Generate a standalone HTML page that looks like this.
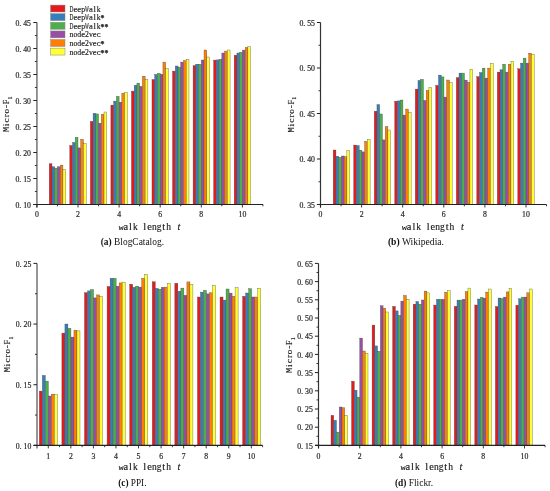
<!DOCTYPE html><html><head><meta charset="utf-8"><style>html,body{margin:0;padding:0;background:#fff;}svg{display:block;filter:blur(0.3px);}</style></head><body>
<svg width="550" height="491" viewBox="0 0 550 491">
<rect width="550" height="491" fill="#fff"/>
<rect x="49.23" y="163.80" width="2.74" height="40.70" fill="#E41A1C" stroke="#4a4a4a" stroke-width="0.35"/>
<rect x="51.97" y="166.80" width="2.74" height="37.70" fill="#377EB8" stroke="#4a4a4a" stroke-width="0.35"/>
<rect x="54.71" y="168.10" width="2.74" height="36.40" fill="#4DAF4A" stroke="#4a4a4a" stroke-width="0.35"/>
<rect x="57.45" y="166.80" width="2.74" height="37.70" fill="#984EA3" stroke="#4a4a4a" stroke-width="0.35"/>
<rect x="60.19" y="165.10" width="2.74" height="39.40" fill="#FF7F00" stroke="#4a4a4a" stroke-width="0.35"/>
<rect x="62.93" y="169.70" width="2.74" height="34.80" fill="#FFFF33" stroke="#4a4a4a" stroke-width="0.35"/>
<rect x="69.78" y="145.50" width="2.74" height="59.00" fill="#E41A1C" stroke="#4a4a4a" stroke-width="0.35"/>
<rect x="72.52" y="142.40" width="2.74" height="62.10" fill="#377EB8" stroke="#4a4a4a" stroke-width="0.35"/>
<rect x="75.26" y="137.30" width="2.74" height="67.20" fill="#4DAF4A" stroke="#4a4a4a" stroke-width="0.35"/>
<rect x="78.00" y="147.90" width="2.74" height="56.60" fill="#984EA3" stroke="#4a4a4a" stroke-width="0.35"/>
<rect x="80.74" y="139.40" width="2.74" height="65.10" fill="#FF7F00" stroke="#4a4a4a" stroke-width="0.35"/>
<rect x="83.48" y="143.60" width="2.74" height="60.90" fill="#FFFF33" stroke="#4a4a4a" stroke-width="0.35"/>
<rect x="90.33" y="121.40" width="2.74" height="83.10" fill="#E41A1C" stroke="#4a4a4a" stroke-width="0.35"/>
<rect x="93.07" y="113.30" width="2.74" height="91.20" fill="#377EB8" stroke="#4a4a4a" stroke-width="0.35"/>
<rect x="95.81" y="113.90" width="2.74" height="90.60" fill="#4DAF4A" stroke="#4a4a4a" stroke-width="0.35"/>
<rect x="98.55" y="123.20" width="2.74" height="81.30" fill="#984EA3" stroke="#4a4a4a" stroke-width="0.35"/>
<rect x="101.29" y="114.30" width="2.74" height="90.20" fill="#FF7F00" stroke="#4a4a4a" stroke-width="0.35"/>
<rect x="104.03" y="112.00" width="2.74" height="92.50" fill="#FFFF33" stroke="#4a4a4a" stroke-width="0.35"/>
<rect x="110.88" y="105.10" width="2.74" height="99.40" fill="#E41A1C" stroke="#4a4a4a" stroke-width="0.35"/>
<rect x="113.62" y="101.10" width="2.74" height="103.40" fill="#377EB8" stroke="#4a4a4a" stroke-width="0.35"/>
<rect x="116.36" y="96.40" width="2.74" height="108.10" fill="#4DAF4A" stroke="#4a4a4a" stroke-width="0.35"/>
<rect x="119.10" y="102.20" width="2.74" height="102.30" fill="#984EA3" stroke="#4a4a4a" stroke-width="0.35"/>
<rect x="121.84" y="93.20" width="2.74" height="111.30" fill="#FF7F00" stroke="#4a4a4a" stroke-width="0.35"/>
<rect x="124.58" y="92.40" width="2.74" height="112.10" fill="#FFFF33" stroke="#4a4a4a" stroke-width="0.35"/>
<rect x="131.43" y="91.10" width="2.74" height="113.40" fill="#E41A1C" stroke="#4a4a4a" stroke-width="0.35"/>
<rect x="134.17" y="85.30" width="2.74" height="119.20" fill="#377EB8" stroke="#4a4a4a" stroke-width="0.35"/>
<rect x="136.91" y="83.10" width="2.74" height="121.40" fill="#4DAF4A" stroke="#4a4a4a" stroke-width="0.35"/>
<rect x="139.65" y="86.40" width="2.74" height="118.10" fill="#984EA3" stroke="#4a4a4a" stroke-width="0.35"/>
<rect x="142.39" y="76.20" width="2.74" height="128.30" fill="#FF7F00" stroke="#4a4a4a" stroke-width="0.35"/>
<rect x="145.13" y="79.80" width="2.74" height="124.70" fill="#FFFF33" stroke="#4a4a4a" stroke-width="0.35"/>
<rect x="151.98" y="79.50" width="2.74" height="125.00" fill="#E41A1C" stroke="#4a4a4a" stroke-width="0.35"/>
<rect x="154.72" y="74.40" width="2.74" height="130.10" fill="#377EB8" stroke="#4a4a4a" stroke-width="0.35"/>
<rect x="157.46" y="73.30" width="2.74" height="131.20" fill="#4DAF4A" stroke="#4a4a4a" stroke-width="0.35"/>
<rect x="160.20" y="74.30" width="2.74" height="130.20" fill="#984EA3" stroke="#4a4a4a" stroke-width="0.35"/>
<rect x="162.94" y="62.10" width="2.74" height="142.40" fill="#FF7F00" stroke="#4a4a4a" stroke-width="0.35"/>
<rect x="165.68" y="68.70" width="2.74" height="135.80" fill="#FFFF33" stroke="#4a4a4a" stroke-width="0.35"/>
<rect x="172.53" y="71.10" width="2.74" height="133.40" fill="#E41A1C" stroke="#4a4a4a" stroke-width="0.35"/>
<rect x="175.27" y="66.00" width="2.74" height="138.50" fill="#377EB8" stroke="#4a4a4a" stroke-width="0.35"/>
<rect x="178.01" y="67.10" width="2.74" height="137.40" fill="#4DAF4A" stroke="#4a4a4a" stroke-width="0.35"/>
<rect x="180.75" y="62.10" width="2.74" height="142.40" fill="#984EA3" stroke="#4a4a4a" stroke-width="0.35"/>
<rect x="183.49" y="60.50" width="2.74" height="144.00" fill="#FF7F00" stroke="#4a4a4a" stroke-width="0.35"/>
<rect x="186.23" y="59.40" width="2.74" height="145.10" fill="#FFFF33" stroke="#4a4a4a" stroke-width="0.35"/>
<rect x="193.08" y="65.60" width="2.74" height="138.90" fill="#E41A1C" stroke="#4a4a4a" stroke-width="0.35"/>
<rect x="195.82" y="64.20" width="2.74" height="140.30" fill="#377EB8" stroke="#4a4a4a" stroke-width="0.35"/>
<rect x="198.56" y="64.20" width="2.74" height="140.30" fill="#4DAF4A" stroke="#4a4a4a" stroke-width="0.35"/>
<rect x="201.30" y="60.00" width="2.74" height="144.50" fill="#984EA3" stroke="#4a4a4a" stroke-width="0.35"/>
<rect x="204.04" y="50.00" width="2.74" height="154.50" fill="#FF7F00" stroke="#4a4a4a" stroke-width="0.35"/>
<rect x="206.78" y="57.00" width="2.74" height="147.50" fill="#FFFF33" stroke="#4a4a4a" stroke-width="0.35"/>
<rect x="213.63" y="60.10" width="2.74" height="144.40" fill="#E41A1C" stroke="#4a4a4a" stroke-width="0.35"/>
<rect x="216.37" y="59.90" width="2.74" height="144.60" fill="#377EB8" stroke="#4a4a4a" stroke-width="0.35"/>
<rect x="219.11" y="59.20" width="2.74" height="145.30" fill="#4DAF4A" stroke="#4a4a4a" stroke-width="0.35"/>
<rect x="221.85" y="53.00" width="2.74" height="151.50" fill="#984EA3" stroke="#4a4a4a" stroke-width="0.35"/>
<rect x="224.59" y="51.10" width="2.74" height="153.40" fill="#FF7F00" stroke="#4a4a4a" stroke-width="0.35"/>
<rect x="227.33" y="50.00" width="2.74" height="154.50" fill="#FFFF33" stroke="#4a4a4a" stroke-width="0.35"/>
<rect x="234.18" y="55.20" width="2.74" height="149.30" fill="#E41A1C" stroke="#4a4a4a" stroke-width="0.35"/>
<rect x="236.92" y="53.00" width="2.74" height="151.50" fill="#377EB8" stroke="#4a4a4a" stroke-width="0.35"/>
<rect x="239.66" y="52.20" width="2.74" height="152.30" fill="#4DAF4A" stroke="#4a4a4a" stroke-width="0.35"/>
<rect x="242.40" y="50.10" width="2.74" height="154.40" fill="#984EA3" stroke="#4a4a4a" stroke-width="0.35"/>
<rect x="245.14" y="47.50" width="2.74" height="157.00" fill="#FF7F00" stroke="#4a4a4a" stroke-width="0.35"/>
<rect x="247.88" y="46.80" width="2.74" height="157.70" fill="#FFFF33" stroke="#4a4a4a" stroke-width="0.35"/>
<rect x="333.21" y="150.00" width="2.73" height="54.50" fill="#E41A1C" stroke="#4a4a4a" stroke-width="0.35"/>
<rect x="335.94" y="156.20" width="2.73" height="48.30" fill="#377EB8" stroke="#4a4a4a" stroke-width="0.35"/>
<rect x="338.68" y="157.30" width="2.73" height="47.20" fill="#4DAF4A" stroke="#4a4a4a" stroke-width="0.35"/>
<rect x="341.41" y="156.00" width="2.73" height="48.50" fill="#984EA3" stroke="#4a4a4a" stroke-width="0.35"/>
<rect x="344.14" y="156.80" width="2.73" height="47.70" fill="#FF7F00" stroke="#4a4a4a" stroke-width="0.35"/>
<rect x="346.88" y="150.50" width="2.73" height="54.00" fill="#FFFF33" stroke="#4a4a4a" stroke-width="0.35"/>
<rect x="353.72" y="145.10" width="2.73" height="59.40" fill="#E41A1C" stroke="#4a4a4a" stroke-width="0.35"/>
<rect x="356.45" y="145.60" width="2.73" height="58.90" fill="#377EB8" stroke="#4a4a4a" stroke-width="0.35"/>
<rect x="359.19" y="150.20" width="2.73" height="54.30" fill="#4DAF4A" stroke="#4a4a4a" stroke-width="0.35"/>
<rect x="361.92" y="151.90" width="2.73" height="52.60" fill="#984EA3" stroke="#4a4a4a" stroke-width="0.35"/>
<rect x="364.65" y="141.30" width="2.73" height="63.20" fill="#FF7F00" stroke="#4a4a4a" stroke-width="0.35"/>
<rect x="367.39" y="139.60" width="2.73" height="64.90" fill="#FFFF33" stroke="#4a4a4a" stroke-width="0.35"/>
<rect x="374.23" y="111.20" width="2.73" height="93.30" fill="#E41A1C" stroke="#4a4a4a" stroke-width="0.35"/>
<rect x="376.96" y="104.60" width="2.73" height="99.90" fill="#377EB8" stroke="#4a4a4a" stroke-width="0.35"/>
<rect x="379.70" y="114.00" width="2.73" height="90.50" fill="#4DAF4A" stroke="#4a4a4a" stroke-width="0.35"/>
<rect x="382.43" y="139.90" width="2.73" height="64.60" fill="#984EA3" stroke="#4a4a4a" stroke-width="0.35"/>
<rect x="385.16" y="126.60" width="2.73" height="77.90" fill="#FF7F00" stroke="#4a4a4a" stroke-width="0.35"/>
<rect x="387.90" y="130.00" width="2.73" height="74.50" fill="#FFFF33" stroke="#4a4a4a" stroke-width="0.35"/>
<rect x="394.74" y="101.20" width="2.73" height="103.30" fill="#E41A1C" stroke="#4a4a4a" stroke-width="0.35"/>
<rect x="397.47" y="100.90" width="2.73" height="103.60" fill="#377EB8" stroke="#4a4a4a" stroke-width="0.35"/>
<rect x="400.21" y="100.00" width="2.73" height="104.50" fill="#4DAF4A" stroke="#4a4a4a" stroke-width="0.35"/>
<rect x="402.94" y="115.10" width="2.73" height="89.40" fill="#984EA3" stroke="#4a4a4a" stroke-width="0.35"/>
<rect x="405.67" y="109.10" width="2.73" height="95.40" fill="#FF7F00" stroke="#4a4a4a" stroke-width="0.35"/>
<rect x="408.41" y="112.40" width="2.73" height="92.10" fill="#FFFF33" stroke="#4a4a4a" stroke-width="0.35"/>
<rect x="415.25" y="89.10" width="2.73" height="115.40" fill="#E41A1C" stroke="#4a4a4a" stroke-width="0.35"/>
<rect x="417.98" y="80.40" width="2.73" height="124.10" fill="#377EB8" stroke="#4a4a4a" stroke-width="0.35"/>
<rect x="420.72" y="79.30" width="2.73" height="125.20" fill="#4DAF4A" stroke="#4a4a4a" stroke-width="0.35"/>
<rect x="423.45" y="100.40" width="2.73" height="104.10" fill="#984EA3" stroke="#4a4a4a" stroke-width="0.35"/>
<rect x="426.18" y="90.50" width="2.73" height="114.00" fill="#FF7F00" stroke="#4a4a4a" stroke-width="0.35"/>
<rect x="428.92" y="87.60" width="2.73" height="116.90" fill="#FFFF33" stroke="#4a4a4a" stroke-width="0.35"/>
<rect x="435.76" y="85.40" width="2.73" height="119.10" fill="#E41A1C" stroke="#4a4a4a" stroke-width="0.35"/>
<rect x="438.49" y="75.10" width="2.73" height="129.40" fill="#377EB8" stroke="#4a4a4a" stroke-width="0.35"/>
<rect x="441.23" y="76.90" width="2.73" height="127.60" fill="#4DAF4A" stroke="#4a4a4a" stroke-width="0.35"/>
<rect x="443.96" y="97.10" width="2.73" height="107.40" fill="#984EA3" stroke="#4a4a4a" stroke-width="0.35"/>
<rect x="446.69" y="80.00" width="2.73" height="124.50" fill="#FF7F00" stroke="#4a4a4a" stroke-width="0.35"/>
<rect x="449.43" y="82.70" width="2.73" height="121.80" fill="#FFFF33" stroke="#4a4a4a" stroke-width="0.35"/>
<rect x="456.27" y="77.70" width="2.73" height="126.80" fill="#E41A1C" stroke="#4a4a4a" stroke-width="0.35"/>
<rect x="459.00" y="73.10" width="2.73" height="131.40" fill="#377EB8" stroke="#4a4a4a" stroke-width="0.35"/>
<rect x="461.74" y="73.10" width="2.73" height="131.40" fill="#4DAF4A" stroke="#4a4a4a" stroke-width="0.35"/>
<rect x="464.47" y="80.10" width="2.73" height="124.40" fill="#984EA3" stroke="#4a4a4a" stroke-width="0.35"/>
<rect x="467.20" y="82.30" width="2.73" height="122.20" fill="#FF7F00" stroke="#4a4a4a" stroke-width="0.35"/>
<rect x="469.94" y="69.20" width="2.73" height="135.30" fill="#FFFF33" stroke="#4a4a4a" stroke-width="0.35"/>
<rect x="476.78" y="76.60" width="2.73" height="127.90" fill="#E41A1C" stroke="#4a4a4a" stroke-width="0.35"/>
<rect x="479.51" y="72.50" width="2.73" height="132.00" fill="#377EB8" stroke="#4a4a4a" stroke-width="0.35"/>
<rect x="482.25" y="68.10" width="2.73" height="136.40" fill="#4DAF4A" stroke="#4a4a4a" stroke-width="0.35"/>
<rect x="484.98" y="78.10" width="2.73" height="126.40" fill="#984EA3" stroke="#4a4a4a" stroke-width="0.35"/>
<rect x="487.71" y="68.10" width="2.73" height="136.40" fill="#FF7F00" stroke="#4a4a4a" stroke-width="0.35"/>
<rect x="490.45" y="63.30" width="2.73" height="141.20" fill="#FFFF33" stroke="#4a4a4a" stroke-width="0.35"/>
<rect x="497.29" y="72.10" width="2.73" height="132.40" fill="#E41A1C" stroke="#4a4a4a" stroke-width="0.35"/>
<rect x="500.02" y="69.80" width="2.73" height="134.70" fill="#377EB8" stroke="#4a4a4a" stroke-width="0.35"/>
<rect x="502.76" y="64.20" width="2.73" height="140.30" fill="#4DAF4A" stroke="#4a4a4a" stroke-width="0.35"/>
<rect x="505.49" y="72.10" width="2.73" height="132.40" fill="#984EA3" stroke="#4a4a4a" stroke-width="0.35"/>
<rect x="508.22" y="64.20" width="2.73" height="140.30" fill="#FF7F00" stroke="#4a4a4a" stroke-width="0.35"/>
<rect x="510.96" y="61.20" width="2.73" height="143.30" fill="#FFFF33" stroke="#4a4a4a" stroke-width="0.35"/>
<rect x="517.80" y="68.80" width="2.73" height="135.70" fill="#E41A1C" stroke="#4a4a4a" stroke-width="0.35"/>
<rect x="520.53" y="63.10" width="2.73" height="141.40" fill="#377EB8" stroke="#4a4a4a" stroke-width="0.35"/>
<rect x="523.27" y="58.10" width="2.73" height="146.40" fill="#4DAF4A" stroke="#4a4a4a" stroke-width="0.35"/>
<rect x="526.00" y="63.10" width="2.73" height="141.40" fill="#984EA3" stroke="#4a4a4a" stroke-width="0.35"/>
<rect x="528.73" y="53.20" width="2.73" height="151.30" fill="#FF7F00" stroke="#4a4a4a" stroke-width="0.35"/>
<rect x="531.47" y="54.30" width="2.73" height="150.20" fill="#FFFF33" stroke="#4a4a4a" stroke-width="0.35"/>
<rect x="39.31" y="391.10" width="3.01" height="54.30" fill="#E41A1C" stroke="#4a4a4a" stroke-width="0.35"/>
<rect x="42.33" y="375.40" width="3.01" height="70.00" fill="#377EB8" stroke="#4a4a4a" stroke-width="0.35"/>
<rect x="45.34" y="381.10" width="3.01" height="64.30" fill="#4DAF4A" stroke="#4a4a4a" stroke-width="0.35"/>
<rect x="48.35" y="396.00" width="3.01" height="49.40" fill="#984EA3" stroke="#4a4a4a" stroke-width="0.35"/>
<rect x="51.36" y="394.20" width="3.01" height="51.20" fill="#FF7F00" stroke="#4a4a4a" stroke-width="0.35"/>
<rect x="54.37" y="394.70" width="3.01" height="50.70" fill="#FFFF33" stroke="#4a4a4a" stroke-width="0.35"/>
<rect x="61.90" y="333.10" width="3.01" height="112.30" fill="#E41A1C" stroke="#4a4a4a" stroke-width="0.35"/>
<rect x="64.92" y="324.00" width="3.01" height="121.40" fill="#377EB8" stroke="#4a4a4a" stroke-width="0.35"/>
<rect x="67.93" y="328.30" width="3.01" height="117.10" fill="#4DAF4A" stroke="#4a4a4a" stroke-width="0.35"/>
<rect x="70.94" y="337.10" width="3.01" height="108.30" fill="#984EA3" stroke="#4a4a4a" stroke-width="0.35"/>
<rect x="73.95" y="330.20" width="3.01" height="115.20" fill="#FF7F00" stroke="#4a4a4a" stroke-width="0.35"/>
<rect x="76.96" y="330.90" width="3.01" height="114.50" fill="#FFFF33" stroke="#4a4a4a" stroke-width="0.35"/>
<rect x="84.49" y="292.70" width="3.01" height="152.70" fill="#E41A1C" stroke="#4a4a4a" stroke-width="0.35"/>
<rect x="87.51" y="290.90" width="3.01" height="154.50" fill="#377EB8" stroke="#4a4a4a" stroke-width="0.35"/>
<rect x="90.52" y="289.50" width="3.01" height="155.90" fill="#4DAF4A" stroke="#4a4a4a" stroke-width="0.35"/>
<rect x="93.53" y="297.90" width="3.01" height="147.50" fill="#984EA3" stroke="#4a4a4a" stroke-width="0.35"/>
<rect x="96.54" y="294.90" width="3.01" height="150.50" fill="#FF7F00" stroke="#4a4a4a" stroke-width="0.35"/>
<rect x="99.55" y="296.30" width="3.01" height="149.10" fill="#FFFF33" stroke="#4a4a4a" stroke-width="0.35"/>
<rect x="107.08" y="286.50" width="3.01" height="158.90" fill="#E41A1C" stroke="#4a4a4a" stroke-width="0.35"/>
<rect x="110.10" y="278.30" width="3.01" height="167.10" fill="#377EB8" stroke="#4a4a4a" stroke-width="0.35"/>
<rect x="113.11" y="278.30" width="3.01" height="167.10" fill="#4DAF4A" stroke="#4a4a4a" stroke-width="0.35"/>
<rect x="116.12" y="286.20" width="3.01" height="159.20" fill="#984EA3" stroke="#4a4a4a" stroke-width="0.35"/>
<rect x="119.13" y="282.90" width="3.01" height="162.50" fill="#FF7F00" stroke="#4a4a4a" stroke-width="0.35"/>
<rect x="122.14" y="282.10" width="3.01" height="163.30" fill="#FFFF33" stroke="#4a4a4a" stroke-width="0.35"/>
<rect x="129.67" y="284.20" width="3.01" height="161.20" fill="#E41A1C" stroke="#4a4a4a" stroke-width="0.35"/>
<rect x="132.69" y="287.30" width="3.01" height="158.10" fill="#377EB8" stroke="#4a4a4a" stroke-width="0.35"/>
<rect x="135.70" y="286.20" width="3.01" height="159.20" fill="#4DAF4A" stroke="#4a4a4a" stroke-width="0.35"/>
<rect x="138.71" y="287.10" width="3.01" height="158.30" fill="#984EA3" stroke="#4a4a4a" stroke-width="0.35"/>
<rect x="141.72" y="278.30" width="3.01" height="167.10" fill="#FF7F00" stroke="#4a4a4a" stroke-width="0.35"/>
<rect x="144.73" y="274.20" width="3.01" height="171.20" fill="#FFFF33" stroke="#4a4a4a" stroke-width="0.35"/>
<rect x="152.26" y="281.80" width="3.01" height="163.60" fill="#E41A1C" stroke="#4a4a4a" stroke-width="0.35"/>
<rect x="155.28" y="288.40" width="3.01" height="157.00" fill="#377EB8" stroke="#4a4a4a" stroke-width="0.35"/>
<rect x="158.29" y="289.20" width="3.01" height="156.20" fill="#4DAF4A" stroke="#4a4a4a" stroke-width="0.35"/>
<rect x="161.30" y="287.30" width="3.01" height="158.10" fill="#984EA3" stroke="#4a4a4a" stroke-width="0.35"/>
<rect x="164.31" y="287.10" width="3.01" height="158.30" fill="#FF7F00" stroke="#4a4a4a" stroke-width="0.35"/>
<rect x="167.32" y="283.20" width="3.01" height="162.20" fill="#FFFF33" stroke="#4a4a4a" stroke-width="0.35"/>
<rect x="174.85" y="283.30" width="3.01" height="162.10" fill="#E41A1C" stroke="#4a4a4a" stroke-width="0.35"/>
<rect x="177.87" y="291.20" width="3.01" height="154.20" fill="#377EB8" stroke="#4a4a4a" stroke-width="0.35"/>
<rect x="180.88" y="288.10" width="3.01" height="157.30" fill="#4DAF4A" stroke="#4a4a4a" stroke-width="0.35"/>
<rect x="183.89" y="295.30" width="3.01" height="150.10" fill="#984EA3" stroke="#4a4a4a" stroke-width="0.35"/>
<rect x="186.90" y="281.90" width="3.01" height="163.50" fill="#FF7F00" stroke="#4a4a4a" stroke-width="0.35"/>
<rect x="189.91" y="284.60" width="3.01" height="160.80" fill="#FFFF33" stroke="#4a4a4a" stroke-width="0.35"/>
<rect x="197.44" y="297.00" width="3.01" height="148.40" fill="#E41A1C" stroke="#4a4a4a" stroke-width="0.35"/>
<rect x="200.46" y="292.10" width="3.01" height="153.30" fill="#377EB8" stroke="#4a4a4a" stroke-width="0.35"/>
<rect x="203.47" y="290.30" width="3.01" height="155.10" fill="#4DAF4A" stroke="#4a4a4a" stroke-width="0.35"/>
<rect x="206.48" y="293.90" width="3.01" height="151.50" fill="#984EA3" stroke="#4a4a4a" stroke-width="0.35"/>
<rect x="209.49" y="292.80" width="3.01" height="152.60" fill="#FF7F00" stroke="#4a4a4a" stroke-width="0.35"/>
<rect x="212.50" y="285.40" width="3.01" height="160.00" fill="#FFFF33" stroke="#4a4a4a" stroke-width="0.35"/>
<rect x="220.03" y="297.00" width="3.01" height="148.40" fill="#E41A1C" stroke="#4a4a4a" stroke-width="0.35"/>
<rect x="223.05" y="300.10" width="3.01" height="145.30" fill="#377EB8" stroke="#4a4a4a" stroke-width="0.35"/>
<rect x="226.06" y="289.00" width="3.01" height="156.40" fill="#4DAF4A" stroke="#4a4a4a" stroke-width="0.35"/>
<rect x="229.07" y="293.10" width="3.01" height="152.30" fill="#984EA3" stroke="#4a4a4a" stroke-width="0.35"/>
<rect x="232.08" y="296.30" width="3.01" height="149.10" fill="#FF7F00" stroke="#4a4a4a" stroke-width="0.35"/>
<rect x="235.09" y="287.70" width="3.01" height="157.70" fill="#FFFF33" stroke="#4a4a4a" stroke-width="0.35"/>
<rect x="242.62" y="296.30" width="3.01" height="149.10" fill="#E41A1C" stroke="#4a4a4a" stroke-width="0.35"/>
<rect x="245.64" y="293.00" width="3.01" height="152.40" fill="#377EB8" stroke="#4a4a4a" stroke-width="0.35"/>
<rect x="248.65" y="288.70" width="3.01" height="156.70" fill="#4DAF4A" stroke="#4a4a4a" stroke-width="0.35"/>
<rect x="251.66" y="297.00" width="3.01" height="148.40" fill="#984EA3" stroke="#4a4a4a" stroke-width="0.35"/>
<rect x="254.67" y="297.00" width="3.01" height="148.40" fill="#FF7F00" stroke="#4a4a4a" stroke-width="0.35"/>
<rect x="257.68" y="288.20" width="3.01" height="157.20" fill="#FFFF33" stroke="#4a4a4a" stroke-width="0.35"/>
<rect x="331.02" y="415.30" width="2.74" height="30.10" fill="#E41A1C" stroke="#4a4a4a" stroke-width="0.35"/>
<rect x="333.76" y="420.30" width="2.74" height="25.10" fill="#377EB8" stroke="#4a4a4a" stroke-width="0.35"/>
<rect x="336.50" y="432.10" width="2.74" height="13.30" fill="#4DAF4A" stroke="#4a4a4a" stroke-width="0.35"/>
<rect x="339.24" y="407.00" width="2.74" height="38.40" fill="#984EA3" stroke="#4a4a4a" stroke-width="0.35"/>
<rect x="341.98" y="407.80" width="2.74" height="37.60" fill="#FF7F00" stroke="#4a4a4a" stroke-width="0.35"/>
<rect x="344.72" y="415.30" width="2.74" height="30.10" fill="#FFFF33" stroke="#4a4a4a" stroke-width="0.35"/>
<rect x="351.56" y="381.20" width="2.74" height="64.20" fill="#E41A1C" stroke="#4a4a4a" stroke-width="0.35"/>
<rect x="354.30" y="390.20" width="2.74" height="55.20" fill="#377EB8" stroke="#4a4a4a" stroke-width="0.35"/>
<rect x="357.04" y="397.10" width="2.74" height="48.30" fill="#4DAF4A" stroke="#4a4a4a" stroke-width="0.35"/>
<rect x="359.78" y="338.10" width="2.74" height="107.30" fill="#984EA3" stroke="#4a4a4a" stroke-width="0.35"/>
<rect x="362.52" y="351.00" width="2.74" height="94.40" fill="#FF7F00" stroke="#4a4a4a" stroke-width="0.35"/>
<rect x="365.26" y="353.40" width="2.74" height="92.00" fill="#FFFF33" stroke="#4a4a4a" stroke-width="0.35"/>
<rect x="372.10" y="325.10" width="2.74" height="120.30" fill="#E41A1C" stroke="#4a4a4a" stroke-width="0.35"/>
<rect x="374.84" y="345.90" width="2.74" height="99.50" fill="#377EB8" stroke="#4a4a4a" stroke-width="0.35"/>
<rect x="377.58" y="351.20" width="2.74" height="94.20" fill="#4DAF4A" stroke="#4a4a4a" stroke-width="0.35"/>
<rect x="380.32" y="305.80" width="2.74" height="139.60" fill="#984EA3" stroke="#4a4a4a" stroke-width="0.35"/>
<rect x="383.06" y="308.20" width="2.74" height="137.20" fill="#FF7F00" stroke="#4a4a4a" stroke-width="0.35"/>
<rect x="385.80" y="312.00" width="2.74" height="133.40" fill="#FFFF33" stroke="#4a4a4a" stroke-width="0.35"/>
<rect x="392.64" y="306.40" width="2.74" height="139.00" fill="#E41A1C" stroke="#4a4a4a" stroke-width="0.35"/>
<rect x="395.38" y="310.90" width="2.74" height="134.50" fill="#377EB8" stroke="#4a4a4a" stroke-width="0.35"/>
<rect x="398.12" y="315.40" width="2.74" height="130.00" fill="#4DAF4A" stroke="#4a4a4a" stroke-width="0.35"/>
<rect x="400.86" y="301.10" width="2.74" height="144.30" fill="#984EA3" stroke="#4a4a4a" stroke-width="0.35"/>
<rect x="403.60" y="295.50" width="2.74" height="149.90" fill="#FF7F00" stroke="#4a4a4a" stroke-width="0.35"/>
<rect x="406.34" y="299.30" width="2.74" height="146.10" fill="#FFFF33" stroke="#4a4a4a" stroke-width="0.35"/>
<rect x="413.18" y="304.20" width="2.74" height="141.20" fill="#E41A1C" stroke="#4a4a4a" stroke-width="0.35"/>
<rect x="415.92" y="301.50" width="2.74" height="143.90" fill="#377EB8" stroke="#4a4a4a" stroke-width="0.35"/>
<rect x="418.66" y="304.20" width="2.74" height="141.20" fill="#4DAF4A" stroke="#4a4a4a" stroke-width="0.35"/>
<rect x="421.40" y="300.00" width="2.74" height="145.40" fill="#984EA3" stroke="#4a4a4a" stroke-width="0.35"/>
<rect x="424.14" y="291.10" width="2.74" height="154.30" fill="#FF7F00" stroke="#4a4a4a" stroke-width="0.35"/>
<rect x="426.88" y="292.90" width="2.74" height="152.50" fill="#FFFF33" stroke="#4a4a4a" stroke-width="0.35"/>
<rect x="433.72" y="305.10" width="2.74" height="140.30" fill="#E41A1C" stroke="#4a4a4a" stroke-width="0.35"/>
<rect x="436.46" y="299.30" width="2.74" height="146.10" fill="#377EB8" stroke="#4a4a4a" stroke-width="0.35"/>
<rect x="439.20" y="299.30" width="2.74" height="146.10" fill="#4DAF4A" stroke="#4a4a4a" stroke-width="0.35"/>
<rect x="441.94" y="299.30" width="2.74" height="146.10" fill="#984EA3" stroke="#4a4a4a" stroke-width="0.35"/>
<rect x="444.68" y="292.20" width="2.74" height="153.20" fill="#FF7F00" stroke="#4a4a4a" stroke-width="0.35"/>
<rect x="447.42" y="290.70" width="2.74" height="154.70" fill="#FFFF33" stroke="#4a4a4a" stroke-width="0.35"/>
<rect x="454.26" y="306.30" width="2.74" height="139.10" fill="#E41A1C" stroke="#4a4a4a" stroke-width="0.35"/>
<rect x="457.00" y="300.10" width="2.74" height="145.30" fill="#377EB8" stroke="#4a4a4a" stroke-width="0.35"/>
<rect x="459.74" y="300.10" width="2.74" height="145.30" fill="#4DAF4A" stroke="#4a4a4a" stroke-width="0.35"/>
<rect x="462.48" y="299.20" width="2.74" height="146.20" fill="#984EA3" stroke="#4a4a4a" stroke-width="0.35"/>
<rect x="465.22" y="291.70" width="2.74" height="153.70" fill="#FF7F00" stroke="#4a4a4a" stroke-width="0.35"/>
<rect x="467.96" y="288.10" width="2.74" height="157.30" fill="#FFFF33" stroke="#4a4a4a" stroke-width="0.35"/>
<rect x="474.80" y="305.00" width="2.74" height="140.40" fill="#E41A1C" stroke="#4a4a4a" stroke-width="0.35"/>
<rect x="477.54" y="299.00" width="2.74" height="146.40" fill="#377EB8" stroke="#4a4a4a" stroke-width="0.35"/>
<rect x="480.28" y="297.40" width="2.74" height="148.00" fill="#4DAF4A" stroke="#4a4a4a" stroke-width="0.35"/>
<rect x="483.02" y="298.10" width="2.74" height="147.30" fill="#984EA3" stroke="#4a4a4a" stroke-width="0.35"/>
<rect x="485.76" y="292.10" width="2.74" height="153.30" fill="#FF7F00" stroke="#4a4a4a" stroke-width="0.35"/>
<rect x="488.50" y="289.00" width="2.74" height="156.40" fill="#FFFF33" stroke="#4a4a4a" stroke-width="0.35"/>
<rect x="495.34" y="306.50" width="2.74" height="138.90" fill="#E41A1C" stroke="#4a4a4a" stroke-width="0.35"/>
<rect x="498.08" y="298.00" width="2.74" height="147.40" fill="#377EB8" stroke="#4a4a4a" stroke-width="0.35"/>
<rect x="500.82" y="298.50" width="2.74" height="146.90" fill="#4DAF4A" stroke="#4a4a4a" stroke-width="0.35"/>
<rect x="503.56" y="297.10" width="2.74" height="148.30" fill="#984EA3" stroke="#4a4a4a" stroke-width="0.35"/>
<rect x="506.30" y="291.90" width="2.74" height="153.50" fill="#FF7F00" stroke="#4a4a4a" stroke-width="0.35"/>
<rect x="509.04" y="288.30" width="2.74" height="157.10" fill="#FFFF33" stroke="#4a4a4a" stroke-width="0.35"/>
<rect x="515.88" y="305.20" width="2.74" height="140.20" fill="#E41A1C" stroke="#4a4a4a" stroke-width="0.35"/>
<rect x="518.62" y="298.80" width="2.74" height="146.60" fill="#377EB8" stroke="#4a4a4a" stroke-width="0.35"/>
<rect x="521.36" y="297.10" width="2.74" height="148.30" fill="#4DAF4A" stroke="#4a4a4a" stroke-width="0.35"/>
<rect x="524.10" y="297.10" width="2.74" height="148.30" fill="#984EA3" stroke="#4a4a4a" stroke-width="0.35"/>
<rect x="526.84" y="292.80" width="2.74" height="152.60" fill="#FF7F00" stroke="#4a4a4a" stroke-width="0.35"/>
<rect x="529.58" y="289.00" width="2.74" height="156.40" fill="#FFFF33" stroke="#4a4a4a" stroke-width="0.35"/>
<line x1="36.9" y1="22.5" x2="36.9" y2="207.5" stroke="#8a8a8a" stroke-width="1.8"/>
<line x1="33.4" y1="204.5" x2="263.0" y2="204.5" stroke="#222" stroke-width="1.1"/>
<line x1="33.3" y1="204.5" x2="36.9" y2="204.5" stroke="#222" stroke-width="1"/>
<line x1="33.3" y1="178.5" x2="36.9" y2="178.5" stroke="#222" stroke-width="1"/>
<line x1="33.3" y1="152.5" x2="36.9" y2="152.5" stroke="#222" stroke-width="1"/>
<line x1="33.3" y1="126.5" x2="36.9" y2="126.5" stroke="#222" stroke-width="1"/>
<line x1="33.3" y1="100.49999999999997" x2="36.9" y2="100.49999999999997" stroke="#222" stroke-width="1"/>
<line x1="33.3" y1="74.5" x2="36.9" y2="74.5" stroke="#222" stroke-width="1"/>
<line x1="33.3" y1="48.49999999999997" x2="36.9" y2="48.49999999999997" stroke="#222" stroke-width="1"/>
<line x1="33.3" y1="22.499999999999943" x2="36.9" y2="22.499999999999943" stroke="#222" stroke-width="1"/>
<line x1="34.9" y1="191.5" x2="36.9" y2="191.5" stroke="#222" stroke-width="0.9"/>
<line x1="34.9" y1="165.5" x2="36.9" y2="165.5" stroke="#222" stroke-width="0.9"/>
<line x1="34.9" y1="139.5" x2="36.9" y2="139.5" stroke="#222" stroke-width="0.9"/>
<line x1="34.9" y1="113.49999999999999" x2="36.9" y2="113.49999999999999" stroke="#222" stroke-width="0.9"/>
<line x1="34.9" y1="87.49999999999999" x2="36.9" y2="87.49999999999999" stroke="#222" stroke-width="0.9"/>
<line x1="34.9" y1="61.49999999999997" x2="36.9" y2="61.49999999999997" stroke="#222" stroke-width="0.9"/>
<line x1="34.9" y1="35.49999999999994" x2="36.9" y2="35.49999999999994" stroke="#222" stroke-width="0.9"/>
<line x1="36.9" y1="204.5" x2="36.9" y2="207.5" stroke="#222" stroke-width="0.9"/>
<line x1="78.0" y1="204.5" x2="78.0" y2="207.5" stroke="#222" stroke-width="0.9"/>
<line x1="119.1" y1="204.5" x2="119.1" y2="207.5" stroke="#222" stroke-width="0.9"/>
<line x1="160.20000000000002" y1="204.5" x2="160.20000000000002" y2="207.5" stroke="#222" stroke-width="0.9"/>
<line x1="201.3" y1="204.5" x2="201.3" y2="207.5" stroke="#222" stroke-width="0.9"/>
<line x1="242.4" y1="204.5" x2="242.4" y2="207.5" stroke="#222" stroke-width="0.9"/>
<line x1="57.45" y1="204.5" x2="57.45" y2="206.3" stroke="#222" stroke-width="0.9"/>
<line x1="98.55000000000001" y1="204.5" x2="98.55000000000001" y2="206.3" stroke="#222" stroke-width="0.9"/>
<line x1="139.65" y1="204.5" x2="139.65" y2="206.3" stroke="#222" stroke-width="0.9"/>
<line x1="180.75" y1="204.5" x2="180.75" y2="206.3" stroke="#222" stroke-width="0.9"/>
<line x1="221.85000000000002" y1="204.5" x2="221.85000000000002" y2="206.3" stroke="#222" stroke-width="0.9"/>
<line x1="262.95" y1="204.5" x2="262.95" y2="206.3" stroke="#222" stroke-width="0.9"/>
<text transform="translate(17.35,207.70) scale(0.987,1)" text-anchor="middle" font-family="'Liberation Serif', serif" font-size="7.9" stroke="#2a2a2a" stroke-width="0.2" fill="#2a2a2a">0</text>
<text transform="translate(20.39,207.70) scale(1.100,1)" text-anchor="middle" font-family="'Liberation Serif', serif" font-size="7.9" stroke="#2a2a2a" stroke-width="0.2" fill="#2a2a2a">.</text>
<text transform="translate(25.15,207.70) scale(0.987,1)" text-anchor="middle" font-family="'Liberation Serif', serif" font-size="7.9" stroke="#2a2a2a" stroke-width="0.2" fill="#2a2a2a">1</text>
<text transform="translate(29.05,207.70) scale(0.987,1)" text-anchor="middle" font-family="'Liberation Serif', serif" font-size="7.9" stroke="#2a2a2a" stroke-width="0.2" fill="#2a2a2a">0</text>
<text transform="translate(17.35,181.70) scale(0.987,1)" text-anchor="middle" font-family="'Liberation Serif', serif" font-size="7.9" stroke="#2a2a2a" stroke-width="0.2" fill="#2a2a2a">0</text>
<text transform="translate(20.39,181.70) scale(1.100,1)" text-anchor="middle" font-family="'Liberation Serif', serif" font-size="7.9" stroke="#2a2a2a" stroke-width="0.2" fill="#2a2a2a">.</text>
<text transform="translate(25.15,181.70) scale(0.987,1)" text-anchor="middle" font-family="'Liberation Serif', serif" font-size="7.9" stroke="#2a2a2a" stroke-width="0.2" fill="#2a2a2a">1</text>
<text transform="translate(29.05,181.70) scale(0.987,1)" text-anchor="middle" font-family="'Liberation Serif', serif" font-size="7.9" stroke="#2a2a2a" stroke-width="0.2" fill="#2a2a2a">5</text>
<text transform="translate(17.35,155.70) scale(0.987,1)" text-anchor="middle" font-family="'Liberation Serif', serif" font-size="7.9" stroke="#2a2a2a" stroke-width="0.2" fill="#2a2a2a">0</text>
<text transform="translate(20.39,155.70) scale(1.100,1)" text-anchor="middle" font-family="'Liberation Serif', serif" font-size="7.9" stroke="#2a2a2a" stroke-width="0.2" fill="#2a2a2a">.</text>
<text transform="translate(25.15,155.70) scale(0.987,1)" text-anchor="middle" font-family="'Liberation Serif', serif" font-size="7.9" stroke="#2a2a2a" stroke-width="0.2" fill="#2a2a2a">2</text>
<text transform="translate(29.05,155.70) scale(0.987,1)" text-anchor="middle" font-family="'Liberation Serif', serif" font-size="7.9" stroke="#2a2a2a" stroke-width="0.2" fill="#2a2a2a">0</text>
<text transform="translate(17.35,129.70) scale(0.987,1)" text-anchor="middle" font-family="'Liberation Serif', serif" font-size="7.9" stroke="#2a2a2a" stroke-width="0.2" fill="#2a2a2a">0</text>
<text transform="translate(20.39,129.70) scale(1.100,1)" text-anchor="middle" font-family="'Liberation Serif', serif" font-size="7.9" stroke="#2a2a2a" stroke-width="0.2" fill="#2a2a2a">.</text>
<text transform="translate(25.15,129.70) scale(0.987,1)" text-anchor="middle" font-family="'Liberation Serif', serif" font-size="7.9" stroke="#2a2a2a" stroke-width="0.2" fill="#2a2a2a">2</text>
<text transform="translate(29.05,129.70) scale(0.987,1)" text-anchor="middle" font-family="'Liberation Serif', serif" font-size="7.9" stroke="#2a2a2a" stroke-width="0.2" fill="#2a2a2a">5</text>
<text transform="translate(17.35,103.70) scale(0.987,1)" text-anchor="middle" font-family="'Liberation Serif', serif" font-size="7.9" stroke="#2a2a2a" stroke-width="0.2" fill="#2a2a2a">0</text>
<text transform="translate(20.39,103.70) scale(1.100,1)" text-anchor="middle" font-family="'Liberation Serif', serif" font-size="7.9" stroke="#2a2a2a" stroke-width="0.2" fill="#2a2a2a">.</text>
<text transform="translate(25.15,103.70) scale(0.987,1)" text-anchor="middle" font-family="'Liberation Serif', serif" font-size="7.9" stroke="#2a2a2a" stroke-width="0.2" fill="#2a2a2a">3</text>
<text transform="translate(29.05,103.70) scale(0.987,1)" text-anchor="middle" font-family="'Liberation Serif', serif" font-size="7.9" stroke="#2a2a2a" stroke-width="0.2" fill="#2a2a2a">0</text>
<text transform="translate(17.35,77.70) scale(0.987,1)" text-anchor="middle" font-family="'Liberation Serif', serif" font-size="7.9" stroke="#2a2a2a" stroke-width="0.2" fill="#2a2a2a">0</text>
<text transform="translate(20.39,77.70) scale(1.100,1)" text-anchor="middle" font-family="'Liberation Serif', serif" font-size="7.9" stroke="#2a2a2a" stroke-width="0.2" fill="#2a2a2a">.</text>
<text transform="translate(25.15,77.70) scale(0.987,1)" text-anchor="middle" font-family="'Liberation Serif', serif" font-size="7.9" stroke="#2a2a2a" stroke-width="0.2" fill="#2a2a2a">3</text>
<text transform="translate(29.05,77.70) scale(0.987,1)" text-anchor="middle" font-family="'Liberation Serif', serif" font-size="7.9" stroke="#2a2a2a" stroke-width="0.2" fill="#2a2a2a">5</text>
<text transform="translate(17.35,51.70) scale(0.987,1)" text-anchor="middle" font-family="'Liberation Serif', serif" font-size="7.9" stroke="#2a2a2a" stroke-width="0.2" fill="#2a2a2a">0</text>
<text transform="translate(20.39,51.70) scale(1.100,1)" text-anchor="middle" font-family="'Liberation Serif', serif" font-size="7.9" stroke="#2a2a2a" stroke-width="0.2" fill="#2a2a2a">.</text>
<text transform="translate(25.15,51.70) scale(0.987,1)" text-anchor="middle" font-family="'Liberation Serif', serif" font-size="7.9" stroke="#2a2a2a" stroke-width="0.2" fill="#2a2a2a">4</text>
<text transform="translate(29.05,51.70) scale(0.987,1)" text-anchor="middle" font-family="'Liberation Serif', serif" font-size="7.9" stroke="#2a2a2a" stroke-width="0.2" fill="#2a2a2a">0</text>
<text transform="translate(17.35,25.70) scale(0.987,1)" text-anchor="middle" font-family="'Liberation Serif', serif" font-size="7.9" stroke="#2a2a2a" stroke-width="0.2" fill="#2a2a2a">0</text>
<text transform="translate(20.39,25.70) scale(1.100,1)" text-anchor="middle" font-family="'Liberation Serif', serif" font-size="7.9" stroke="#2a2a2a" stroke-width="0.2" fill="#2a2a2a">.</text>
<text transform="translate(25.15,25.70) scale(0.987,1)" text-anchor="middle" font-family="'Liberation Serif', serif" font-size="7.9" stroke="#2a2a2a" stroke-width="0.2" fill="#2a2a2a">4</text>
<text transform="translate(29.05,25.70) scale(0.987,1)" text-anchor="middle" font-family="'Liberation Serif', serif" font-size="7.9" stroke="#2a2a2a" stroke-width="0.2" fill="#2a2a2a">5</text>
<text transform="translate(36.90,217.30) scale(0.987,1)" text-anchor="middle" font-family="'Liberation Serif', serif" font-size="7.9" stroke="#2a2a2a" stroke-width="0.2" fill="#2a2a2a">0</text>
<text transform="translate(78.00,217.30) scale(0.987,1)" text-anchor="middle" font-family="'Liberation Serif', serif" font-size="7.9" stroke="#2a2a2a" stroke-width="0.2" fill="#2a2a2a">2</text>
<text transform="translate(119.10,217.30) scale(0.987,1)" text-anchor="middle" font-family="'Liberation Serif', serif" font-size="7.9" stroke="#2a2a2a" stroke-width="0.2" fill="#2a2a2a">4</text>
<text transform="translate(160.20,217.30) scale(0.987,1)" text-anchor="middle" font-family="'Liberation Serif', serif" font-size="7.9" stroke="#2a2a2a" stroke-width="0.2" fill="#2a2a2a">6</text>
<text transform="translate(201.30,217.30) scale(0.987,1)" text-anchor="middle" font-family="'Liberation Serif', serif" font-size="7.9" stroke="#2a2a2a" stroke-width="0.2" fill="#2a2a2a">8</text>
<text transform="translate(240.45,217.30) scale(0.987,1)" text-anchor="middle" font-family="'Liberation Serif', serif" font-size="7.9" stroke="#2a2a2a" stroke-width="0.2" fill="#2a2a2a">1</text>
<text transform="translate(244.35,217.30) scale(0.987,1)" text-anchor="middle" font-family="'Liberation Serif', serif" font-size="7.9" stroke="#2a2a2a" stroke-width="0.2" fill="#2a2a2a">0</text>
<line x1="320.5" y1="22.5" x2="320.5" y2="207.5" stroke="#333" stroke-width="1.2"/>
<line x1="317.0" y1="204.5" x2="546.5" y2="204.5" stroke="#222" stroke-width="1.1"/>
<line x1="316.9" y1="204.5" x2="320.5" y2="204.5" stroke="#222" stroke-width="1"/>
<line x1="316.9" y1="159.00000000000003" x2="320.5" y2="159.00000000000003" stroke="#222" stroke-width="1"/>
<line x1="316.9" y1="113.50000000000006" x2="320.5" y2="113.50000000000006" stroke="#222" stroke-width="1"/>
<line x1="316.9" y1="68.00000000000003" x2="320.5" y2="68.00000000000003" stroke="#222" stroke-width="1"/>
<line x1="316.9" y1="22.5" x2="320.5" y2="22.5" stroke="#222" stroke-width="1"/>
<line x1="318.5" y1="181.75" x2="320.5" y2="181.75" stroke="#222" stroke-width="0.9"/>
<line x1="318.5" y1="136.25" x2="320.5" y2="136.25" stroke="#222" stroke-width="0.9"/>
<line x1="318.5" y1="90.75000000000004" x2="320.5" y2="90.75000000000004" stroke="#222" stroke-width="0.9"/>
<line x1="318.5" y1="45.25" x2="320.5" y2="45.25" stroke="#222" stroke-width="0.9"/>
<line x1="320.5" y1="204.5" x2="320.5" y2="207.5" stroke="#222" stroke-width="0.9"/>
<line x1="361.6" y1="204.5" x2="361.6" y2="207.5" stroke="#222" stroke-width="0.9"/>
<line x1="402.7" y1="204.5" x2="402.7" y2="207.5" stroke="#222" stroke-width="0.9"/>
<line x1="443.8" y1="204.5" x2="443.8" y2="207.5" stroke="#222" stroke-width="0.9"/>
<line x1="484.9" y1="204.5" x2="484.9" y2="207.5" stroke="#222" stroke-width="0.9"/>
<line x1="526.0" y1="204.5" x2="526.0" y2="207.5" stroke="#222" stroke-width="0.9"/>
<line x1="341.05" y1="204.5" x2="341.05" y2="206.3" stroke="#222" stroke-width="0.9"/>
<line x1="382.15" y1="204.5" x2="382.15" y2="206.3" stroke="#222" stroke-width="0.9"/>
<line x1="423.25" y1="204.5" x2="423.25" y2="206.3" stroke="#222" stroke-width="0.9"/>
<line x1="464.35" y1="204.5" x2="464.35" y2="206.3" stroke="#222" stroke-width="0.9"/>
<line x1="505.45000000000005" y1="204.5" x2="505.45000000000005" y2="206.3" stroke="#222" stroke-width="0.9"/>
<line x1="546.55" y1="204.5" x2="546.55" y2="206.3" stroke="#222" stroke-width="0.9"/>
<text transform="translate(301.35,207.70) scale(0.987,1)" text-anchor="middle" font-family="'Liberation Serif', serif" font-size="7.9" stroke="#2a2a2a" stroke-width="0.2" fill="#2a2a2a">0</text>
<text transform="translate(304.39,207.70) scale(1.100,1)" text-anchor="middle" font-family="'Liberation Serif', serif" font-size="7.9" stroke="#2a2a2a" stroke-width="0.2" fill="#2a2a2a">.</text>
<text transform="translate(309.15,207.70) scale(0.987,1)" text-anchor="middle" font-family="'Liberation Serif', serif" font-size="7.9" stroke="#2a2a2a" stroke-width="0.2" fill="#2a2a2a">3</text>
<text transform="translate(313.05,207.70) scale(0.987,1)" text-anchor="middle" font-family="'Liberation Serif', serif" font-size="7.9" stroke="#2a2a2a" stroke-width="0.2" fill="#2a2a2a">5</text>
<text transform="translate(301.35,162.20) scale(0.987,1)" text-anchor="middle" font-family="'Liberation Serif', serif" font-size="7.9" stroke="#2a2a2a" stroke-width="0.2" fill="#2a2a2a">0</text>
<text transform="translate(304.39,162.20) scale(1.100,1)" text-anchor="middle" font-family="'Liberation Serif', serif" font-size="7.9" stroke="#2a2a2a" stroke-width="0.2" fill="#2a2a2a">.</text>
<text transform="translate(309.15,162.20) scale(0.987,1)" text-anchor="middle" font-family="'Liberation Serif', serif" font-size="7.9" stroke="#2a2a2a" stroke-width="0.2" fill="#2a2a2a">4</text>
<text transform="translate(313.05,162.20) scale(0.987,1)" text-anchor="middle" font-family="'Liberation Serif', serif" font-size="7.9" stroke="#2a2a2a" stroke-width="0.2" fill="#2a2a2a">0</text>
<text transform="translate(301.35,116.70) scale(0.987,1)" text-anchor="middle" font-family="'Liberation Serif', serif" font-size="7.9" stroke="#2a2a2a" stroke-width="0.2" fill="#2a2a2a">0</text>
<text transform="translate(304.39,116.70) scale(1.100,1)" text-anchor="middle" font-family="'Liberation Serif', serif" font-size="7.9" stroke="#2a2a2a" stroke-width="0.2" fill="#2a2a2a">.</text>
<text transform="translate(309.15,116.70) scale(0.987,1)" text-anchor="middle" font-family="'Liberation Serif', serif" font-size="7.9" stroke="#2a2a2a" stroke-width="0.2" fill="#2a2a2a">4</text>
<text transform="translate(313.05,116.70) scale(0.987,1)" text-anchor="middle" font-family="'Liberation Serif', serif" font-size="7.9" stroke="#2a2a2a" stroke-width="0.2" fill="#2a2a2a">5</text>
<text transform="translate(301.35,71.20) scale(0.987,1)" text-anchor="middle" font-family="'Liberation Serif', serif" font-size="7.9" stroke="#2a2a2a" stroke-width="0.2" fill="#2a2a2a">0</text>
<text transform="translate(304.39,71.20) scale(1.100,1)" text-anchor="middle" font-family="'Liberation Serif', serif" font-size="7.9" stroke="#2a2a2a" stroke-width="0.2" fill="#2a2a2a">.</text>
<text transform="translate(309.15,71.20) scale(0.987,1)" text-anchor="middle" font-family="'Liberation Serif', serif" font-size="7.9" stroke="#2a2a2a" stroke-width="0.2" fill="#2a2a2a">5</text>
<text transform="translate(313.05,71.20) scale(0.987,1)" text-anchor="middle" font-family="'Liberation Serif', serif" font-size="7.9" stroke="#2a2a2a" stroke-width="0.2" fill="#2a2a2a">0</text>
<text transform="translate(301.35,25.70) scale(0.987,1)" text-anchor="middle" font-family="'Liberation Serif', serif" font-size="7.9" stroke="#2a2a2a" stroke-width="0.2" fill="#2a2a2a">0</text>
<text transform="translate(304.39,25.70) scale(1.100,1)" text-anchor="middle" font-family="'Liberation Serif', serif" font-size="7.9" stroke="#2a2a2a" stroke-width="0.2" fill="#2a2a2a">.</text>
<text transform="translate(309.15,25.70) scale(0.987,1)" text-anchor="middle" font-family="'Liberation Serif', serif" font-size="7.9" stroke="#2a2a2a" stroke-width="0.2" fill="#2a2a2a">5</text>
<text transform="translate(313.05,25.70) scale(0.987,1)" text-anchor="middle" font-family="'Liberation Serif', serif" font-size="7.9" stroke="#2a2a2a" stroke-width="0.2" fill="#2a2a2a">5</text>
<text transform="translate(320.50,217.30) scale(0.987,1)" text-anchor="middle" font-family="'Liberation Serif', serif" font-size="7.9" stroke="#2a2a2a" stroke-width="0.2" fill="#2a2a2a">0</text>
<text transform="translate(361.60,217.30) scale(0.987,1)" text-anchor="middle" font-family="'Liberation Serif', serif" font-size="7.9" stroke="#2a2a2a" stroke-width="0.2" fill="#2a2a2a">2</text>
<text transform="translate(402.70,217.30) scale(0.987,1)" text-anchor="middle" font-family="'Liberation Serif', serif" font-size="7.9" stroke="#2a2a2a" stroke-width="0.2" fill="#2a2a2a">4</text>
<text transform="translate(443.80,217.30) scale(0.987,1)" text-anchor="middle" font-family="'Liberation Serif', serif" font-size="7.9" stroke="#2a2a2a" stroke-width="0.2" fill="#2a2a2a">6</text>
<text transform="translate(484.90,217.30) scale(0.987,1)" text-anchor="middle" font-family="'Liberation Serif', serif" font-size="7.9" stroke="#2a2a2a" stroke-width="0.2" fill="#2a2a2a">8</text>
<text transform="translate(524.05,217.30) scale(0.987,1)" text-anchor="middle" font-family="'Liberation Serif', serif" font-size="7.9" stroke="#2a2a2a" stroke-width="0.2" fill="#2a2a2a">1</text>
<text transform="translate(527.95,217.30) scale(0.987,1)" text-anchor="middle" font-family="'Liberation Serif', serif" font-size="7.9" stroke="#2a2a2a" stroke-width="0.2" fill="#2a2a2a">0</text>
<line x1="37.0" y1="263.4" x2="37.0" y2="448.4" stroke="#8a8a8a" stroke-width="1.8"/>
<line x1="33.5" y1="445.4" x2="262.6" y2="445.4" stroke="#222" stroke-width="1.1"/>
<line x1="33.4" y1="445.4" x2="37.0" y2="445.4" stroke="#222" stroke-width="1"/>
<line x1="33.4" y1="384.7333333333333" x2="37.0" y2="384.7333333333333" stroke="#222" stroke-width="1"/>
<line x1="33.4" y1="324.06666666666666" x2="37.0" y2="324.06666666666666" stroke="#222" stroke-width="1"/>
<line x1="33.4" y1="263.4" x2="37.0" y2="263.4" stroke="#222" stroke-width="1"/>
<line x1="35.0" y1="415.06666666666666" x2="37.0" y2="415.06666666666666" stroke="#222" stroke-width="0.9"/>
<line x1="35.0" y1="354.4" x2="37.0" y2="354.4" stroke="#222" stroke-width="0.9"/>
<line x1="35.0" y1="293.7333333333333" x2="37.0" y2="293.7333333333333" stroke="#222" stroke-width="0.9"/>
<line x1="48.28" y1="445.4" x2="48.28" y2="448.4" stroke="#222" stroke-width="0.9"/>
<line x1="70.84" y1="445.4" x2="70.84" y2="448.4" stroke="#222" stroke-width="0.9"/>
<line x1="93.4" y1="445.4" x2="93.4" y2="448.4" stroke="#222" stroke-width="0.9"/>
<line x1="115.96" y1="445.4" x2="115.96" y2="448.4" stroke="#222" stroke-width="0.9"/>
<line x1="138.51999999999998" y1="445.4" x2="138.51999999999998" y2="448.4" stroke="#222" stroke-width="0.9"/>
<line x1="161.07999999999998" y1="445.4" x2="161.07999999999998" y2="448.4" stroke="#222" stroke-width="0.9"/>
<line x1="183.64" y1="445.4" x2="183.64" y2="448.4" stroke="#222" stroke-width="0.9"/>
<line x1="206.2" y1="445.4" x2="206.2" y2="448.4" stroke="#222" stroke-width="0.9"/>
<line x1="228.76" y1="445.4" x2="228.76" y2="448.4" stroke="#222" stroke-width="0.9"/>
<line x1="251.32" y1="445.4" x2="251.32" y2="448.4" stroke="#222" stroke-width="0.9"/>
<line x1="59.56" y1="445.4" x2="59.56" y2="447.2" stroke="#222" stroke-width="0.9"/>
<line x1="82.12" y1="445.4" x2="82.12" y2="447.2" stroke="#222" stroke-width="0.9"/>
<line x1="104.67999999999999" y1="445.4" x2="104.67999999999999" y2="447.2" stroke="#222" stroke-width="0.9"/>
<line x1="127.24" y1="445.4" x2="127.24" y2="447.2" stroke="#222" stroke-width="0.9"/>
<line x1="149.8" y1="445.4" x2="149.8" y2="447.2" stroke="#222" stroke-width="0.9"/>
<line x1="172.35999999999999" y1="445.4" x2="172.35999999999999" y2="447.2" stroke="#222" stroke-width="0.9"/>
<line x1="194.92" y1="445.4" x2="194.92" y2="447.2" stroke="#222" stroke-width="0.9"/>
<line x1="217.48" y1="445.4" x2="217.48" y2="447.2" stroke="#222" stroke-width="0.9"/>
<line x1="240.04" y1="445.4" x2="240.04" y2="447.2" stroke="#222" stroke-width="0.9"/>
<line x1="262.6" y1="445.4" x2="262.6" y2="447.2" stroke="#222" stroke-width="0.9"/>
<text transform="translate(17.65,448.60) scale(0.987,1)" text-anchor="middle" font-family="'Liberation Serif', serif" font-size="7.9" stroke="#2a2a2a" stroke-width="0.2" fill="#2a2a2a">0</text>
<text transform="translate(20.69,448.60) scale(1.100,1)" text-anchor="middle" font-family="'Liberation Serif', serif" font-size="7.9" stroke="#2a2a2a" stroke-width="0.2" fill="#2a2a2a">.</text>
<text transform="translate(25.45,448.60) scale(0.987,1)" text-anchor="middle" font-family="'Liberation Serif', serif" font-size="7.9" stroke="#2a2a2a" stroke-width="0.2" fill="#2a2a2a">1</text>
<text transform="translate(29.35,448.60) scale(0.987,1)" text-anchor="middle" font-family="'Liberation Serif', serif" font-size="7.9" stroke="#2a2a2a" stroke-width="0.2" fill="#2a2a2a">0</text>
<text transform="translate(17.65,387.93) scale(0.987,1)" text-anchor="middle" font-family="'Liberation Serif', serif" font-size="7.9" stroke="#2a2a2a" stroke-width="0.2" fill="#2a2a2a">0</text>
<text transform="translate(20.69,387.93) scale(1.100,1)" text-anchor="middle" font-family="'Liberation Serif', serif" font-size="7.9" stroke="#2a2a2a" stroke-width="0.2" fill="#2a2a2a">.</text>
<text transform="translate(25.45,387.93) scale(0.987,1)" text-anchor="middle" font-family="'Liberation Serif', serif" font-size="7.9" stroke="#2a2a2a" stroke-width="0.2" fill="#2a2a2a">1</text>
<text transform="translate(29.35,387.93) scale(0.987,1)" text-anchor="middle" font-family="'Liberation Serif', serif" font-size="7.9" stroke="#2a2a2a" stroke-width="0.2" fill="#2a2a2a">5</text>
<text transform="translate(17.65,327.27) scale(0.987,1)" text-anchor="middle" font-family="'Liberation Serif', serif" font-size="7.9" stroke="#2a2a2a" stroke-width="0.2" fill="#2a2a2a">0</text>
<text transform="translate(20.69,327.27) scale(1.100,1)" text-anchor="middle" font-family="'Liberation Serif', serif" font-size="7.9" stroke="#2a2a2a" stroke-width="0.2" fill="#2a2a2a">.</text>
<text transform="translate(25.45,327.27) scale(0.987,1)" text-anchor="middle" font-family="'Liberation Serif', serif" font-size="7.9" stroke="#2a2a2a" stroke-width="0.2" fill="#2a2a2a">2</text>
<text transform="translate(29.35,327.27) scale(0.987,1)" text-anchor="middle" font-family="'Liberation Serif', serif" font-size="7.9" stroke="#2a2a2a" stroke-width="0.2" fill="#2a2a2a">0</text>
<text transform="translate(17.65,266.60) scale(0.987,1)" text-anchor="middle" font-family="'Liberation Serif', serif" font-size="7.9" stroke="#2a2a2a" stroke-width="0.2" fill="#2a2a2a">0</text>
<text transform="translate(20.69,266.60) scale(1.100,1)" text-anchor="middle" font-family="'Liberation Serif', serif" font-size="7.9" stroke="#2a2a2a" stroke-width="0.2" fill="#2a2a2a">.</text>
<text transform="translate(25.45,266.60) scale(0.987,1)" text-anchor="middle" font-family="'Liberation Serif', serif" font-size="7.9" stroke="#2a2a2a" stroke-width="0.2" fill="#2a2a2a">2</text>
<text transform="translate(29.35,266.60) scale(0.987,1)" text-anchor="middle" font-family="'Liberation Serif', serif" font-size="7.9" stroke="#2a2a2a" stroke-width="0.2" fill="#2a2a2a">5</text>
<text transform="translate(48.28,458.80) scale(0.987,1)" text-anchor="middle" font-family="'Liberation Serif', serif" font-size="7.9" stroke="#2a2a2a" stroke-width="0.2" fill="#2a2a2a">1</text>
<text transform="translate(70.84,458.80) scale(0.987,1)" text-anchor="middle" font-family="'Liberation Serif', serif" font-size="7.9" stroke="#2a2a2a" stroke-width="0.2" fill="#2a2a2a">2</text>
<text transform="translate(93.40,458.80) scale(0.987,1)" text-anchor="middle" font-family="'Liberation Serif', serif" font-size="7.9" stroke="#2a2a2a" stroke-width="0.2" fill="#2a2a2a">3</text>
<text transform="translate(115.96,458.80) scale(0.987,1)" text-anchor="middle" font-family="'Liberation Serif', serif" font-size="7.9" stroke="#2a2a2a" stroke-width="0.2" fill="#2a2a2a">4</text>
<text transform="translate(138.52,458.80) scale(0.987,1)" text-anchor="middle" font-family="'Liberation Serif', serif" font-size="7.9" stroke="#2a2a2a" stroke-width="0.2" fill="#2a2a2a">5</text>
<text transform="translate(161.08,458.80) scale(0.987,1)" text-anchor="middle" font-family="'Liberation Serif', serif" font-size="7.9" stroke="#2a2a2a" stroke-width="0.2" fill="#2a2a2a">6</text>
<text transform="translate(183.64,458.80) scale(0.987,1)" text-anchor="middle" font-family="'Liberation Serif', serif" font-size="7.9" stroke="#2a2a2a" stroke-width="0.2" fill="#2a2a2a">7</text>
<text transform="translate(206.20,458.80) scale(0.987,1)" text-anchor="middle" font-family="'Liberation Serif', serif" font-size="7.9" stroke="#2a2a2a" stroke-width="0.2" fill="#2a2a2a">8</text>
<text transform="translate(228.76,458.80) scale(0.987,1)" text-anchor="middle" font-family="'Liberation Serif', serif" font-size="7.9" stroke="#2a2a2a" stroke-width="0.2" fill="#2a2a2a">9</text>
<text transform="translate(249.37,458.80) scale(0.987,1)" text-anchor="middle" font-family="'Liberation Serif', serif" font-size="7.9" stroke="#2a2a2a" stroke-width="0.2" fill="#2a2a2a">1</text>
<text transform="translate(253.27,458.80) scale(0.987,1)" text-anchor="middle" font-family="'Liberation Serif', serif" font-size="7.9" stroke="#2a2a2a" stroke-width="0.2" fill="#2a2a2a">0</text>
<line x1="318.5" y1="263.4" x2="318.5" y2="448.4" stroke="#333" stroke-width="1.2"/>
<line x1="315.0" y1="445.4" x2="545.0" y2="445.4" stroke="#222" stroke-width="1.1"/>
<line x1="314.9" y1="445.4" x2="318.5" y2="445.4" stroke="#222" stroke-width="1"/>
<line x1="314.9" y1="427.2" x2="318.5" y2="427.2" stroke="#222" stroke-width="1"/>
<line x1="314.9" y1="409.0" x2="318.5" y2="409.0" stroke="#222" stroke-width="1"/>
<line x1="314.9" y1="390.79999999999995" x2="318.5" y2="390.79999999999995" stroke="#222" stroke-width="1"/>
<line x1="314.9" y1="372.59999999999997" x2="318.5" y2="372.59999999999997" stroke="#222" stroke-width="1"/>
<line x1="314.9" y1="354.4" x2="318.5" y2="354.4" stroke="#222" stroke-width="1"/>
<line x1="314.9" y1="336.19999999999993" x2="318.5" y2="336.19999999999993" stroke="#222" stroke-width="1"/>
<line x1="314.9" y1="318.0" x2="318.5" y2="318.0" stroke="#222" stroke-width="1"/>
<line x1="314.9" y1="299.79999999999995" x2="318.5" y2="299.79999999999995" stroke="#222" stroke-width="1"/>
<line x1="314.9" y1="281.6" x2="318.5" y2="281.6" stroke="#222" stroke-width="1"/>
<line x1="314.9" y1="263.4" x2="318.5" y2="263.4" stroke="#222" stroke-width="1"/>
<line x1="316.5" y1="436.29999999999995" x2="318.5" y2="436.29999999999995" stroke="#222" stroke-width="0.9"/>
<line x1="316.5" y1="418.09999999999997" x2="318.5" y2="418.09999999999997" stroke="#222" stroke-width="0.9"/>
<line x1="316.5" y1="399.9" x2="318.5" y2="399.9" stroke="#222" stroke-width="0.9"/>
<line x1="316.5" y1="381.7" x2="318.5" y2="381.7" stroke="#222" stroke-width="0.9"/>
<line x1="316.5" y1="363.5" x2="318.5" y2="363.5" stroke="#222" stroke-width="0.9"/>
<line x1="316.5" y1="345.29999999999995" x2="318.5" y2="345.29999999999995" stroke="#222" stroke-width="0.9"/>
<line x1="316.5" y1="327.09999999999997" x2="318.5" y2="327.09999999999997" stroke="#222" stroke-width="0.9"/>
<line x1="316.5" y1="308.9" x2="318.5" y2="308.9" stroke="#222" stroke-width="0.9"/>
<line x1="316.5" y1="290.7" x2="318.5" y2="290.7" stroke="#222" stroke-width="0.9"/>
<line x1="316.5" y1="272.5" x2="318.5" y2="272.5" stroke="#222" stroke-width="0.9"/>
<line x1="318.5" y1="445.4" x2="318.5" y2="448.4" stroke="#222" stroke-width="0.9"/>
<line x1="359.7" y1="445.4" x2="359.7" y2="448.4" stroke="#222" stroke-width="0.9"/>
<line x1="400.9" y1="445.4" x2="400.9" y2="448.4" stroke="#222" stroke-width="0.9"/>
<line x1="442.1" y1="445.4" x2="442.1" y2="448.4" stroke="#222" stroke-width="0.9"/>
<line x1="483.3" y1="445.4" x2="483.3" y2="448.4" stroke="#222" stroke-width="0.9"/>
<line x1="524.5" y1="445.4" x2="524.5" y2="448.4" stroke="#222" stroke-width="0.9"/>
<line x1="339.1" y1="445.4" x2="339.1" y2="447.2" stroke="#222" stroke-width="0.9"/>
<line x1="380.3" y1="445.4" x2="380.3" y2="447.2" stroke="#222" stroke-width="0.9"/>
<line x1="421.5" y1="445.4" x2="421.5" y2="447.2" stroke="#222" stroke-width="0.9"/>
<line x1="462.70000000000005" y1="445.4" x2="462.70000000000005" y2="447.2" stroke="#222" stroke-width="0.9"/>
<line x1="503.9" y1="445.4" x2="503.9" y2="447.2" stroke="#222" stroke-width="0.9"/>
<line x1="545.1" y1="445.4" x2="545.1" y2="447.2" stroke="#222" stroke-width="0.9"/>
<text transform="translate(299.15,448.60) scale(0.987,1)" text-anchor="middle" font-family="'Liberation Serif', serif" font-size="7.9" stroke="#2a2a2a" stroke-width="0.2" fill="#2a2a2a">0</text>
<text transform="translate(302.19,448.60) scale(1.100,1)" text-anchor="middle" font-family="'Liberation Serif', serif" font-size="7.9" stroke="#2a2a2a" stroke-width="0.2" fill="#2a2a2a">.</text>
<text transform="translate(306.95,448.60) scale(0.987,1)" text-anchor="middle" font-family="'Liberation Serif', serif" font-size="7.9" stroke="#2a2a2a" stroke-width="0.2" fill="#2a2a2a">1</text>
<text transform="translate(310.85,448.60) scale(0.987,1)" text-anchor="middle" font-family="'Liberation Serif', serif" font-size="7.9" stroke="#2a2a2a" stroke-width="0.2" fill="#2a2a2a">5</text>
<text transform="translate(299.15,430.40) scale(0.987,1)" text-anchor="middle" font-family="'Liberation Serif', serif" font-size="7.9" stroke="#2a2a2a" stroke-width="0.2" fill="#2a2a2a">0</text>
<text transform="translate(302.19,430.40) scale(1.100,1)" text-anchor="middle" font-family="'Liberation Serif', serif" font-size="7.9" stroke="#2a2a2a" stroke-width="0.2" fill="#2a2a2a">.</text>
<text transform="translate(306.95,430.40) scale(0.987,1)" text-anchor="middle" font-family="'Liberation Serif', serif" font-size="7.9" stroke="#2a2a2a" stroke-width="0.2" fill="#2a2a2a">2</text>
<text transform="translate(310.85,430.40) scale(0.987,1)" text-anchor="middle" font-family="'Liberation Serif', serif" font-size="7.9" stroke="#2a2a2a" stroke-width="0.2" fill="#2a2a2a">0</text>
<text transform="translate(299.15,412.20) scale(0.987,1)" text-anchor="middle" font-family="'Liberation Serif', serif" font-size="7.9" stroke="#2a2a2a" stroke-width="0.2" fill="#2a2a2a">0</text>
<text transform="translate(302.19,412.20) scale(1.100,1)" text-anchor="middle" font-family="'Liberation Serif', serif" font-size="7.9" stroke="#2a2a2a" stroke-width="0.2" fill="#2a2a2a">.</text>
<text transform="translate(306.95,412.20) scale(0.987,1)" text-anchor="middle" font-family="'Liberation Serif', serif" font-size="7.9" stroke="#2a2a2a" stroke-width="0.2" fill="#2a2a2a">2</text>
<text transform="translate(310.85,412.20) scale(0.987,1)" text-anchor="middle" font-family="'Liberation Serif', serif" font-size="7.9" stroke="#2a2a2a" stroke-width="0.2" fill="#2a2a2a">5</text>
<text transform="translate(299.15,394.00) scale(0.987,1)" text-anchor="middle" font-family="'Liberation Serif', serif" font-size="7.9" stroke="#2a2a2a" stroke-width="0.2" fill="#2a2a2a">0</text>
<text transform="translate(302.19,394.00) scale(1.100,1)" text-anchor="middle" font-family="'Liberation Serif', serif" font-size="7.9" stroke="#2a2a2a" stroke-width="0.2" fill="#2a2a2a">.</text>
<text transform="translate(306.95,394.00) scale(0.987,1)" text-anchor="middle" font-family="'Liberation Serif', serif" font-size="7.9" stroke="#2a2a2a" stroke-width="0.2" fill="#2a2a2a">3</text>
<text transform="translate(310.85,394.00) scale(0.987,1)" text-anchor="middle" font-family="'Liberation Serif', serif" font-size="7.9" stroke="#2a2a2a" stroke-width="0.2" fill="#2a2a2a">0</text>
<text transform="translate(299.15,375.80) scale(0.987,1)" text-anchor="middle" font-family="'Liberation Serif', serif" font-size="7.9" stroke="#2a2a2a" stroke-width="0.2" fill="#2a2a2a">0</text>
<text transform="translate(302.19,375.80) scale(1.100,1)" text-anchor="middle" font-family="'Liberation Serif', serif" font-size="7.9" stroke="#2a2a2a" stroke-width="0.2" fill="#2a2a2a">.</text>
<text transform="translate(306.95,375.80) scale(0.987,1)" text-anchor="middle" font-family="'Liberation Serif', serif" font-size="7.9" stroke="#2a2a2a" stroke-width="0.2" fill="#2a2a2a">3</text>
<text transform="translate(310.85,375.80) scale(0.987,1)" text-anchor="middle" font-family="'Liberation Serif', serif" font-size="7.9" stroke="#2a2a2a" stroke-width="0.2" fill="#2a2a2a">5</text>
<text transform="translate(299.15,357.60) scale(0.987,1)" text-anchor="middle" font-family="'Liberation Serif', serif" font-size="7.9" stroke="#2a2a2a" stroke-width="0.2" fill="#2a2a2a">0</text>
<text transform="translate(302.19,357.60) scale(1.100,1)" text-anchor="middle" font-family="'Liberation Serif', serif" font-size="7.9" stroke="#2a2a2a" stroke-width="0.2" fill="#2a2a2a">.</text>
<text transform="translate(306.95,357.60) scale(0.987,1)" text-anchor="middle" font-family="'Liberation Serif', serif" font-size="7.9" stroke="#2a2a2a" stroke-width="0.2" fill="#2a2a2a">4</text>
<text transform="translate(310.85,357.60) scale(0.987,1)" text-anchor="middle" font-family="'Liberation Serif', serif" font-size="7.9" stroke="#2a2a2a" stroke-width="0.2" fill="#2a2a2a">0</text>
<text transform="translate(299.15,339.40) scale(0.987,1)" text-anchor="middle" font-family="'Liberation Serif', serif" font-size="7.9" stroke="#2a2a2a" stroke-width="0.2" fill="#2a2a2a">0</text>
<text transform="translate(302.19,339.40) scale(1.100,1)" text-anchor="middle" font-family="'Liberation Serif', serif" font-size="7.9" stroke="#2a2a2a" stroke-width="0.2" fill="#2a2a2a">.</text>
<text transform="translate(306.95,339.40) scale(0.987,1)" text-anchor="middle" font-family="'Liberation Serif', serif" font-size="7.9" stroke="#2a2a2a" stroke-width="0.2" fill="#2a2a2a">4</text>
<text transform="translate(310.85,339.40) scale(0.987,1)" text-anchor="middle" font-family="'Liberation Serif', serif" font-size="7.9" stroke="#2a2a2a" stroke-width="0.2" fill="#2a2a2a">5</text>
<text transform="translate(299.15,321.20) scale(0.987,1)" text-anchor="middle" font-family="'Liberation Serif', serif" font-size="7.9" stroke="#2a2a2a" stroke-width="0.2" fill="#2a2a2a">0</text>
<text transform="translate(302.19,321.20) scale(1.100,1)" text-anchor="middle" font-family="'Liberation Serif', serif" font-size="7.9" stroke="#2a2a2a" stroke-width="0.2" fill="#2a2a2a">.</text>
<text transform="translate(306.95,321.20) scale(0.987,1)" text-anchor="middle" font-family="'Liberation Serif', serif" font-size="7.9" stroke="#2a2a2a" stroke-width="0.2" fill="#2a2a2a">5</text>
<text transform="translate(310.85,321.20) scale(0.987,1)" text-anchor="middle" font-family="'Liberation Serif', serif" font-size="7.9" stroke="#2a2a2a" stroke-width="0.2" fill="#2a2a2a">0</text>
<text transform="translate(299.15,303.00) scale(0.987,1)" text-anchor="middle" font-family="'Liberation Serif', serif" font-size="7.9" stroke="#2a2a2a" stroke-width="0.2" fill="#2a2a2a">0</text>
<text transform="translate(302.19,303.00) scale(1.100,1)" text-anchor="middle" font-family="'Liberation Serif', serif" font-size="7.9" stroke="#2a2a2a" stroke-width="0.2" fill="#2a2a2a">.</text>
<text transform="translate(306.95,303.00) scale(0.987,1)" text-anchor="middle" font-family="'Liberation Serif', serif" font-size="7.9" stroke="#2a2a2a" stroke-width="0.2" fill="#2a2a2a">5</text>
<text transform="translate(310.85,303.00) scale(0.987,1)" text-anchor="middle" font-family="'Liberation Serif', serif" font-size="7.9" stroke="#2a2a2a" stroke-width="0.2" fill="#2a2a2a">5</text>
<text transform="translate(299.15,284.80) scale(0.987,1)" text-anchor="middle" font-family="'Liberation Serif', serif" font-size="7.9" stroke="#2a2a2a" stroke-width="0.2" fill="#2a2a2a">0</text>
<text transform="translate(302.19,284.80) scale(1.100,1)" text-anchor="middle" font-family="'Liberation Serif', serif" font-size="7.9" stroke="#2a2a2a" stroke-width="0.2" fill="#2a2a2a">.</text>
<text transform="translate(306.95,284.80) scale(0.987,1)" text-anchor="middle" font-family="'Liberation Serif', serif" font-size="7.9" stroke="#2a2a2a" stroke-width="0.2" fill="#2a2a2a">6</text>
<text transform="translate(310.85,284.80) scale(0.987,1)" text-anchor="middle" font-family="'Liberation Serif', serif" font-size="7.9" stroke="#2a2a2a" stroke-width="0.2" fill="#2a2a2a">0</text>
<text transform="translate(299.15,266.60) scale(0.987,1)" text-anchor="middle" font-family="'Liberation Serif', serif" font-size="7.9" stroke="#2a2a2a" stroke-width="0.2" fill="#2a2a2a">0</text>
<text transform="translate(302.19,266.60) scale(1.100,1)" text-anchor="middle" font-family="'Liberation Serif', serif" font-size="7.9" stroke="#2a2a2a" stroke-width="0.2" fill="#2a2a2a">.</text>
<text transform="translate(306.95,266.60) scale(0.987,1)" text-anchor="middle" font-family="'Liberation Serif', serif" font-size="7.9" stroke="#2a2a2a" stroke-width="0.2" fill="#2a2a2a">6</text>
<text transform="translate(310.85,266.60) scale(0.987,1)" text-anchor="middle" font-family="'Liberation Serif', serif" font-size="7.9" stroke="#2a2a2a" stroke-width="0.2" fill="#2a2a2a">5</text>
<text transform="translate(318.50,458.80) scale(0.987,1)" text-anchor="middle" font-family="'Liberation Serif', serif" font-size="7.9" stroke="#2a2a2a" stroke-width="0.2" fill="#2a2a2a">0</text>
<text transform="translate(359.70,458.80) scale(0.987,1)" text-anchor="middle" font-family="'Liberation Serif', serif" font-size="7.9" stroke="#2a2a2a" stroke-width="0.2" fill="#2a2a2a">2</text>
<text transform="translate(400.90,458.80) scale(0.987,1)" text-anchor="middle" font-family="'Liberation Serif', serif" font-size="7.9" stroke="#2a2a2a" stroke-width="0.2" fill="#2a2a2a">4</text>
<text transform="translate(442.10,458.80) scale(0.987,1)" text-anchor="middle" font-family="'Liberation Serif', serif" font-size="7.9" stroke="#2a2a2a" stroke-width="0.2" fill="#2a2a2a">6</text>
<text transform="translate(483.30,458.80) scale(0.987,1)" text-anchor="middle" font-family="'Liberation Serif', serif" font-size="7.9" stroke="#2a2a2a" stroke-width="0.2" fill="#2a2a2a">8</text>
<text transform="translate(522.55,458.80) scale(0.987,1)" text-anchor="middle" font-family="'Liberation Serif', serif" font-size="7.9" stroke="#2a2a2a" stroke-width="0.2" fill="#2a2a2a">1</text>
<text transform="translate(526.45,458.80) scale(0.987,1)" text-anchor="middle" font-family="'Liberation Serif', serif" font-size="7.9" stroke="#2a2a2a" stroke-width="0.2" fill="#2a2a2a">0</text>
<text transform="translate(121.08,229.50) scale(0.992,1)" text-anchor="middle" font-family="'Liberation Mono', monospace" font-size="8.09" stroke="#222" stroke-width="0.15" fill="#222">w</text>
<text transform="translate(125.83,229.50) scale(1.120,1)" text-anchor="middle" font-family="'Liberation Serif', serif" font-size="9.3" stroke="#222" stroke-width="0.15" fill="#222">a</text>
<text transform="translate(130.57,229.50) scale(1.120,1)" text-anchor="middle" font-family="'Liberation Serif', serif" font-size="9.3" stroke="#222" stroke-width="0.15" fill="#222">l</text>
<text transform="translate(135.32,229.50) scale(1.022,1)" text-anchor="middle" font-family="'Liberation Serif', serif" font-size="9.3" stroke="#222" stroke-width="0.15" fill="#222">k</text>
<text transform="translate(144.82,229.50) scale(1.120,1)" text-anchor="middle" font-family="'Liberation Serif', serif" font-size="9.3" stroke="#222" stroke-width="0.15" fill="#222">l</text>
<text transform="translate(149.57,229.50) scale(1.120,1)" text-anchor="middle" font-family="'Liberation Serif', serif" font-size="9.3" stroke="#222" stroke-width="0.15" fill="#222">e</text>
<text transform="translate(154.32,229.50) scale(1.022,1)" text-anchor="middle" font-family="'Liberation Serif', serif" font-size="9.3" stroke="#222" stroke-width="0.15" fill="#222">n</text>
<text transform="translate(159.07,229.50) scale(1.022,1)" text-anchor="middle" font-family="'Liberation Serif', serif" font-size="9.3" stroke="#222" stroke-width="0.15" fill="#222">g</text>
<text transform="translate(163.82,229.50) scale(1.120,1)" text-anchor="middle" font-family="'Liberation Serif', serif" font-size="9.3" stroke="#222" stroke-width="0.15" fill="#222">t</text>
<text transform="translate(168.57,229.50) scale(1.022,1)" text-anchor="middle" font-family="'Liberation Serif', serif" font-size="9.3" stroke="#222" stroke-width="0.15" fill="#222">h</text>
<text x="177.60" y="229.50" font-family="'Liberation Serif', serif" font-style="italic" font-size="10" stroke="#222" stroke-width="0.2" fill="#222">t</text>
<text transform="translate(404.38,229.50) scale(0.992,1)" text-anchor="middle" font-family="'Liberation Mono', monospace" font-size="8.09" stroke="#222" stroke-width="0.15" fill="#222">w</text>
<text transform="translate(409.12,229.50) scale(1.120,1)" text-anchor="middle" font-family="'Liberation Serif', serif" font-size="9.3" stroke="#222" stroke-width="0.15" fill="#222">a</text>
<text transform="translate(413.88,229.50) scale(1.120,1)" text-anchor="middle" font-family="'Liberation Serif', serif" font-size="9.3" stroke="#222" stroke-width="0.15" fill="#222">l</text>
<text transform="translate(418.62,229.50) scale(1.022,1)" text-anchor="middle" font-family="'Liberation Serif', serif" font-size="9.3" stroke="#222" stroke-width="0.15" fill="#222">k</text>
<text transform="translate(428.12,229.50) scale(1.120,1)" text-anchor="middle" font-family="'Liberation Serif', serif" font-size="9.3" stroke="#222" stroke-width="0.15" fill="#222">l</text>
<text transform="translate(432.88,229.50) scale(1.120,1)" text-anchor="middle" font-family="'Liberation Serif', serif" font-size="9.3" stroke="#222" stroke-width="0.15" fill="#222">e</text>
<text transform="translate(437.62,229.50) scale(1.022,1)" text-anchor="middle" font-family="'Liberation Serif', serif" font-size="9.3" stroke="#222" stroke-width="0.15" fill="#222">n</text>
<text transform="translate(442.38,229.50) scale(1.022,1)" text-anchor="middle" font-family="'Liberation Serif', serif" font-size="9.3" stroke="#222" stroke-width="0.15" fill="#222">g</text>
<text transform="translate(447.12,229.50) scale(1.120,1)" text-anchor="middle" font-family="'Liberation Serif', serif" font-size="9.3" stroke="#222" stroke-width="0.15" fill="#222">t</text>
<text transform="translate(451.88,229.50) scale(1.022,1)" text-anchor="middle" font-family="'Liberation Serif', serif" font-size="9.3" stroke="#222" stroke-width="0.15" fill="#222">h</text>
<text x="460.90" y="229.50" font-family="'Liberation Serif', serif" font-style="italic" font-size="10" stroke="#222" stroke-width="0.2" fill="#222">t</text>
<text transform="translate(121.08,470.10) scale(0.992,1)" text-anchor="middle" font-family="'Liberation Mono', monospace" font-size="8.09" stroke="#222" stroke-width="0.15" fill="#222">w</text>
<text transform="translate(125.83,470.10) scale(1.120,1)" text-anchor="middle" font-family="'Liberation Serif', serif" font-size="9.3" stroke="#222" stroke-width="0.15" fill="#222">a</text>
<text transform="translate(130.57,470.10) scale(1.120,1)" text-anchor="middle" font-family="'Liberation Serif', serif" font-size="9.3" stroke="#222" stroke-width="0.15" fill="#222">l</text>
<text transform="translate(135.32,470.10) scale(1.022,1)" text-anchor="middle" font-family="'Liberation Serif', serif" font-size="9.3" stroke="#222" stroke-width="0.15" fill="#222">k</text>
<text transform="translate(144.82,470.10) scale(1.120,1)" text-anchor="middle" font-family="'Liberation Serif', serif" font-size="9.3" stroke="#222" stroke-width="0.15" fill="#222">l</text>
<text transform="translate(149.57,470.10) scale(1.120,1)" text-anchor="middle" font-family="'Liberation Serif', serif" font-size="9.3" stroke="#222" stroke-width="0.15" fill="#222">e</text>
<text transform="translate(154.32,470.10) scale(1.022,1)" text-anchor="middle" font-family="'Liberation Serif', serif" font-size="9.3" stroke="#222" stroke-width="0.15" fill="#222">n</text>
<text transform="translate(159.07,470.10) scale(1.022,1)" text-anchor="middle" font-family="'Liberation Serif', serif" font-size="9.3" stroke="#222" stroke-width="0.15" fill="#222">g</text>
<text transform="translate(163.82,470.10) scale(1.120,1)" text-anchor="middle" font-family="'Liberation Serif', serif" font-size="9.3" stroke="#222" stroke-width="0.15" fill="#222">t</text>
<text transform="translate(168.57,470.10) scale(1.022,1)" text-anchor="middle" font-family="'Liberation Serif', serif" font-size="9.3" stroke="#222" stroke-width="0.15" fill="#222">h</text>
<text x="177.60" y="470.10" font-family="'Liberation Serif', serif" font-style="italic" font-size="10" stroke="#222" stroke-width="0.2" fill="#222">t</text>
<text transform="translate(403.07,470.10) scale(0.992,1)" text-anchor="middle" font-family="'Liberation Mono', monospace" font-size="8.09" stroke="#222" stroke-width="0.15" fill="#222">w</text>
<text transform="translate(407.82,470.10) scale(1.120,1)" text-anchor="middle" font-family="'Liberation Serif', serif" font-size="9.3" stroke="#222" stroke-width="0.15" fill="#222">a</text>
<text transform="translate(412.57,470.10) scale(1.120,1)" text-anchor="middle" font-family="'Liberation Serif', serif" font-size="9.3" stroke="#222" stroke-width="0.15" fill="#222">l</text>
<text transform="translate(417.32,470.10) scale(1.022,1)" text-anchor="middle" font-family="'Liberation Serif', serif" font-size="9.3" stroke="#222" stroke-width="0.15" fill="#222">k</text>
<text transform="translate(426.82,470.10) scale(1.120,1)" text-anchor="middle" font-family="'Liberation Serif', serif" font-size="9.3" stroke="#222" stroke-width="0.15" fill="#222">l</text>
<text transform="translate(431.57,470.10) scale(1.120,1)" text-anchor="middle" font-family="'Liberation Serif', serif" font-size="9.3" stroke="#222" stroke-width="0.15" fill="#222">e</text>
<text transform="translate(436.32,470.10) scale(1.022,1)" text-anchor="middle" font-family="'Liberation Serif', serif" font-size="9.3" stroke="#222" stroke-width="0.15" fill="#222">n</text>
<text transform="translate(441.07,470.10) scale(1.022,1)" text-anchor="middle" font-family="'Liberation Serif', serif" font-size="9.3" stroke="#222" stroke-width="0.15" fill="#222">g</text>
<text transform="translate(445.82,470.10) scale(1.120,1)" text-anchor="middle" font-family="'Liberation Serif', serif" font-size="9.3" stroke="#222" stroke-width="0.15" fill="#222">t</text>
<text transform="translate(450.57,470.10) scale(1.022,1)" text-anchor="middle" font-family="'Liberation Serif', serif" font-size="9.3" stroke="#222" stroke-width="0.15" fill="#222">h</text>
<text x="459.60" y="470.10" font-family="'Liberation Serif', serif" font-style="italic" font-size="10" stroke="#222" stroke-width="0.2" fill="#222">t</text>
<g transform="translate(9.20,131.80) rotate(-90)">
<text transform="translate(2.30,0.00) scale(1.000,1)" text-anchor="middle" font-family="'Liberation Mono', monospace" font-size="8.60" stroke="#222" stroke-width="0.15" fill="#222">M</text>
<text transform="translate(6.90,0.00) scale(1.100,1)" text-anchor="middle" font-family="'Liberation Serif', serif" font-size="8.6" stroke="#222" stroke-width="0.15" fill="#222">i</text>
<text transform="translate(11.50,0.00) scale(1.100,1)" text-anchor="middle" font-family="'Liberation Serif', serif" font-size="8.6" stroke="#222" stroke-width="0.15" fill="#222">c</text>
<text transform="translate(16.10,0.00) scale(1.100,1)" text-anchor="middle" font-family="'Liberation Serif', serif" font-size="8.6" stroke="#222" stroke-width="0.15" fill="#222">r</text>
<text transform="translate(20.70,0.00) scale(1.070,1)" text-anchor="middle" font-family="'Liberation Serif', serif" font-size="8.6" stroke="#222" stroke-width="0.15" fill="#222">o</text>
<text transform="translate(25.30,0.00) scale(1.100,1)" text-anchor="middle" font-family="'Liberation Serif', serif" font-size="8.6" stroke="#222" stroke-width="0.15" fill="#222">-</text>
<text transform="translate(29.90,0.00) scale(0.962,1)" text-anchor="middle" font-family="'Liberation Serif', serif" font-size="8.6" stroke="#222" stroke-width="0.15" fill="#222">F</text>
<text x="32.40" y="2.9" font-family="'Liberation Serif', serif" font-size="6" stroke="#222" stroke-width="0.15" fill="#222">1</text>
</g>
<g transform="translate(293.50,132.10) rotate(-90)">
<text transform="translate(2.30,0.00) scale(1.000,1)" text-anchor="middle" font-family="'Liberation Mono', monospace" font-size="8.60" stroke="#222" stroke-width="0.15" fill="#222">M</text>
<text transform="translate(6.90,0.00) scale(1.100,1)" text-anchor="middle" font-family="'Liberation Serif', serif" font-size="8.6" stroke="#222" stroke-width="0.15" fill="#222">i</text>
<text transform="translate(11.50,0.00) scale(1.100,1)" text-anchor="middle" font-family="'Liberation Serif', serif" font-size="8.6" stroke="#222" stroke-width="0.15" fill="#222">c</text>
<text transform="translate(16.10,0.00) scale(1.100,1)" text-anchor="middle" font-family="'Liberation Serif', serif" font-size="8.6" stroke="#222" stroke-width="0.15" fill="#222">r</text>
<text transform="translate(20.70,0.00) scale(1.070,1)" text-anchor="middle" font-family="'Liberation Serif', serif" font-size="8.6" stroke="#222" stroke-width="0.15" fill="#222">o</text>
<text transform="translate(25.30,0.00) scale(1.100,1)" text-anchor="middle" font-family="'Liberation Serif', serif" font-size="8.6" stroke="#222" stroke-width="0.15" fill="#222">-</text>
<text transform="translate(29.90,0.00) scale(0.962,1)" text-anchor="middle" font-family="'Liberation Serif', serif" font-size="8.6" stroke="#222" stroke-width="0.15" fill="#222">F</text>
<text x="32.40" y="2.9" font-family="'Liberation Serif', serif" font-size="6" stroke="#222" stroke-width="0.15" fill="#222">1</text>
</g>
<g transform="translate(10.10,372.00) rotate(-90)">
<text transform="translate(2.30,0.00) scale(1.000,1)" text-anchor="middle" font-family="'Liberation Mono', monospace" font-size="8.60" stroke="#222" stroke-width="0.15" fill="#222">M</text>
<text transform="translate(6.90,0.00) scale(1.100,1)" text-anchor="middle" font-family="'Liberation Serif', serif" font-size="8.6" stroke="#222" stroke-width="0.15" fill="#222">i</text>
<text transform="translate(11.50,0.00) scale(1.100,1)" text-anchor="middle" font-family="'Liberation Serif', serif" font-size="8.6" stroke="#222" stroke-width="0.15" fill="#222">c</text>
<text transform="translate(16.10,0.00) scale(1.100,1)" text-anchor="middle" font-family="'Liberation Serif', serif" font-size="8.6" stroke="#222" stroke-width="0.15" fill="#222">r</text>
<text transform="translate(20.70,0.00) scale(1.070,1)" text-anchor="middle" font-family="'Liberation Serif', serif" font-size="8.6" stroke="#222" stroke-width="0.15" fill="#222">o</text>
<text transform="translate(25.30,0.00) scale(1.100,1)" text-anchor="middle" font-family="'Liberation Serif', serif" font-size="8.6" stroke="#222" stroke-width="0.15" fill="#222">-</text>
<text transform="translate(29.90,0.00) scale(0.962,1)" text-anchor="middle" font-family="'Liberation Serif', serif" font-size="8.6" stroke="#222" stroke-width="0.15" fill="#222">F</text>
<text x="32.40" y="2.9" font-family="'Liberation Serif', serif" font-size="6" stroke="#222" stroke-width="0.15" fill="#222">1</text>
</g>
<g transform="translate(292.20,372.60) rotate(-90)">
<text transform="translate(2.30,0.00) scale(1.000,1)" text-anchor="middle" font-family="'Liberation Mono', monospace" font-size="8.60" stroke="#222" stroke-width="0.15" fill="#222">M</text>
<text transform="translate(6.90,0.00) scale(1.100,1)" text-anchor="middle" font-family="'Liberation Serif', serif" font-size="8.6" stroke="#222" stroke-width="0.15" fill="#222">i</text>
<text transform="translate(11.50,0.00) scale(1.100,1)" text-anchor="middle" font-family="'Liberation Serif', serif" font-size="8.6" stroke="#222" stroke-width="0.15" fill="#222">c</text>
<text transform="translate(16.10,0.00) scale(1.100,1)" text-anchor="middle" font-family="'Liberation Serif', serif" font-size="8.6" stroke="#222" stroke-width="0.15" fill="#222">r</text>
<text transform="translate(20.70,0.00) scale(1.070,1)" text-anchor="middle" font-family="'Liberation Serif', serif" font-size="8.6" stroke="#222" stroke-width="0.15" fill="#222">o</text>
<text transform="translate(25.30,0.00) scale(1.100,1)" text-anchor="middle" font-family="'Liberation Serif', serif" font-size="8.6" stroke="#222" stroke-width="0.15" fill="#222">-</text>
<text transform="translate(29.90,0.00) scale(0.962,1)" text-anchor="middle" font-family="'Liberation Serif', serif" font-size="8.6" stroke="#222" stroke-width="0.15" fill="#222">F</text>
<text x="32.40" y="2.9" font-family="'Liberation Serif', serif" font-size="6" stroke="#222" stroke-width="0.15" fill="#222">1</text>
</g>
<text x="100.70" y="245.40" font-family="'Liberation Serif', serif" font-size="10" textLength="63.30" lengthAdjust="spacingAndGlyphs" fill="#111"><tspan font-weight="bold">(a)</tspan> BlogCatalog.</text>
<text x="387.90" y="244.70" font-family="'Liberation Serif', serif" font-size="10" textLength="56.10" lengthAdjust="spacingAndGlyphs" fill="#111"><tspan font-weight="bold">(b)</tspan> Wikipedia.</text>
<text x="118.20" y="485.80" font-family="'Liberation Serif', serif" font-size="10" textLength="28.30" lengthAdjust="spacingAndGlyphs" fill="#111"><tspan font-weight="bold">(c)</tspan> PPI.</text>
<text x="394.90" y="485.80" font-family="'Liberation Serif', serif" font-size="10" textLength="38.20" lengthAdjust="spacingAndGlyphs" fill="#111"><tspan font-weight="bold">(d)</tspan> Flickr.</text>
<rect x="50.6" y="5.10" width="14.4" height="6.9" fill="#E41A1C" stroke="#888" stroke-width="0.5"/>
<text transform="translate(71.44,11.50) scale(0.716,1)" text-anchor="middle" font-family="'Liberation Serif', serif" font-size="7.5" stroke="#222" stroke-width="0.15" fill="#222">D</text>
<text transform="translate(75.32,11.50) scale(1.150,1)" text-anchor="middle" font-family="'Liberation Serif', serif" font-size="7.5" stroke="#222" stroke-width="0.15" fill="#222">e</text>
<text transform="translate(79.20,11.50) scale(1.150,1)" text-anchor="middle" font-family="'Liberation Serif', serif" font-size="7.5" stroke="#222" stroke-width="0.15" fill="#222">e</text>
<text transform="translate(83.08,11.50) scale(1.035,1)" text-anchor="middle" font-family="'Liberation Serif', serif" font-size="7.5" stroke="#222" stroke-width="0.15" fill="#222">p</text>
<text transform="translate(86.96,11.50) scale(0.548,1)" text-anchor="middle" font-family="'Liberation Serif', serif" font-size="7.5" stroke="#222" stroke-width="0.15" fill="#222">W</text>
<text transform="translate(90.84,11.50) scale(1.150,1)" text-anchor="middle" font-family="'Liberation Serif', serif" font-size="7.5" stroke="#222" stroke-width="0.15" fill="#222">a</text>
<text transform="translate(94.72,11.50) scale(1.150,1)" text-anchor="middle" font-family="'Liberation Serif', serif" font-size="7.5" stroke="#222" stroke-width="0.15" fill="#222">l</text>
<text transform="translate(98.60,11.50) scale(1.035,1)" text-anchor="middle" font-family="'Liberation Serif', serif" font-size="7.5" stroke="#222" stroke-width="0.15" fill="#222">k</text>
<rect x="50.6" y="13.70" width="14.4" height="6.9" fill="#377EB8" stroke="#888" stroke-width="0.5"/>
<text transform="translate(71.44,20.10) scale(0.716,1)" text-anchor="middle" font-family="'Liberation Serif', serif" font-size="7.5" stroke="#222" stroke-width="0.15" fill="#222">D</text>
<text transform="translate(75.32,20.10) scale(1.150,1)" text-anchor="middle" font-family="'Liberation Serif', serif" font-size="7.5" stroke="#222" stroke-width="0.15" fill="#222">e</text>
<text transform="translate(79.20,20.10) scale(1.150,1)" text-anchor="middle" font-family="'Liberation Serif', serif" font-size="7.5" stroke="#222" stroke-width="0.15" fill="#222">e</text>
<text transform="translate(83.08,20.10) scale(1.035,1)" text-anchor="middle" font-family="'Liberation Serif', serif" font-size="7.5" stroke="#222" stroke-width="0.15" fill="#222">p</text>
<text transform="translate(86.96,20.10) scale(0.548,1)" text-anchor="middle" font-family="'Liberation Serif', serif" font-size="7.5" stroke="#222" stroke-width="0.15" fill="#222">W</text>
<text transform="translate(90.84,20.10) scale(1.150,1)" text-anchor="middle" font-family="'Liberation Serif', serif" font-size="7.5" stroke="#222" stroke-width="0.15" fill="#222">a</text>
<text transform="translate(94.72,20.10) scale(1.150,1)" text-anchor="middle" font-family="'Liberation Serif', serif" font-size="7.5" stroke="#222" stroke-width="0.15" fill="#222">l</text>
<text transform="translate(98.60,20.10) scale(1.035,1)" text-anchor="middle" font-family="'Liberation Serif', serif" font-size="7.5" stroke="#222" stroke-width="0.15" fill="#222">k</text>
<text transform="translate(102.48,21.30) scale(1.05,1.05)" text-anchor="middle" font-family="'Liberation Serif', serif" font-size="7.5" font-weight="bold" stroke="#222" stroke-width="0.2" fill="#222">*</text>
<rect x="50.6" y="22.30" width="14.4" height="6.9" fill="#4DAF4A" stroke="#888" stroke-width="0.5"/>
<text transform="translate(71.44,28.70) scale(0.716,1)" text-anchor="middle" font-family="'Liberation Serif', serif" font-size="7.5" stroke="#222" stroke-width="0.15" fill="#222">D</text>
<text transform="translate(75.32,28.70) scale(1.150,1)" text-anchor="middle" font-family="'Liberation Serif', serif" font-size="7.5" stroke="#222" stroke-width="0.15" fill="#222">e</text>
<text transform="translate(79.20,28.70) scale(1.150,1)" text-anchor="middle" font-family="'Liberation Serif', serif" font-size="7.5" stroke="#222" stroke-width="0.15" fill="#222">e</text>
<text transform="translate(83.08,28.70) scale(1.035,1)" text-anchor="middle" font-family="'Liberation Serif', serif" font-size="7.5" stroke="#222" stroke-width="0.15" fill="#222">p</text>
<text transform="translate(86.96,28.70) scale(0.548,1)" text-anchor="middle" font-family="'Liberation Serif', serif" font-size="7.5" stroke="#222" stroke-width="0.15" fill="#222">W</text>
<text transform="translate(90.84,28.70) scale(1.150,1)" text-anchor="middle" font-family="'Liberation Serif', serif" font-size="7.5" stroke="#222" stroke-width="0.15" fill="#222">a</text>
<text transform="translate(94.72,28.70) scale(1.150,1)" text-anchor="middle" font-family="'Liberation Serif', serif" font-size="7.5" stroke="#222" stroke-width="0.15" fill="#222">l</text>
<text transform="translate(98.60,28.70) scale(1.035,1)" text-anchor="middle" font-family="'Liberation Serif', serif" font-size="7.5" stroke="#222" stroke-width="0.15" fill="#222">k</text>
<text transform="translate(102.48,29.90) scale(1.05,1.05)" text-anchor="middle" font-family="'Liberation Serif', serif" font-size="7.5" font-weight="bold" stroke="#222" stroke-width="0.2" fill="#222">*</text>
<text transform="translate(106.36,29.90) scale(1.05,1.05)" text-anchor="middle" font-family="'Liberation Serif', serif" font-size="7.5" font-weight="bold" stroke="#222" stroke-width="0.2" fill="#222">*</text>
<rect x="50.6" y="30.95" width="14.4" height="6.9" fill="#984EA3" stroke="#888" stroke-width="0.5"/>
<text transform="translate(71.44,37.35) scale(1.035,1)" text-anchor="middle" font-family="'Liberation Serif', serif" font-size="7.5" stroke="#222" stroke-width="0.15" fill="#222">n</text>
<text transform="translate(75.32,37.35) scale(1.035,1)" text-anchor="middle" font-family="'Liberation Serif', serif" font-size="7.5" stroke="#222" stroke-width="0.15" fill="#222">o</text>
<text transform="translate(79.20,37.35) scale(1.035,1)" text-anchor="middle" font-family="'Liberation Serif', serif" font-size="7.5" stroke="#222" stroke-width="0.15" fill="#222">d</text>
<text transform="translate(83.08,37.35) scale(1.150,1)" text-anchor="middle" font-family="'Liberation Serif', serif" font-size="7.5" stroke="#222" stroke-width="0.15" fill="#222">e</text>
<text transform="translate(86.96,37.35) scale(1.035,1)" text-anchor="middle" font-family="'Liberation Serif', serif" font-size="7.5" stroke="#222" stroke-width="0.15" fill="#222">2</text>
<text transform="translate(90.84,37.35) scale(1.035,1)" text-anchor="middle" font-family="'Liberation Serif', serif" font-size="7.5" stroke="#222" stroke-width="0.15" fill="#222">v</text>
<text transform="translate(94.72,37.35) scale(1.150,1)" text-anchor="middle" font-family="'Liberation Serif', serif" font-size="7.5" stroke="#222" stroke-width="0.15" fill="#222">e</text>
<text transform="translate(98.60,37.35) scale(1.150,1)" text-anchor="middle" font-family="'Liberation Serif', serif" font-size="7.5" stroke="#222" stroke-width="0.15" fill="#222">c</text>
<rect x="50.6" y="39.55" width="14.4" height="6.9" fill="#FF7F00" stroke="#888" stroke-width="0.5"/>
<text transform="translate(71.44,45.95) scale(1.035,1)" text-anchor="middle" font-family="'Liberation Serif', serif" font-size="7.5" stroke="#222" stroke-width="0.15" fill="#222">n</text>
<text transform="translate(75.32,45.95) scale(1.035,1)" text-anchor="middle" font-family="'Liberation Serif', serif" font-size="7.5" stroke="#222" stroke-width="0.15" fill="#222">o</text>
<text transform="translate(79.20,45.95) scale(1.035,1)" text-anchor="middle" font-family="'Liberation Serif', serif" font-size="7.5" stroke="#222" stroke-width="0.15" fill="#222">d</text>
<text transform="translate(83.08,45.95) scale(1.150,1)" text-anchor="middle" font-family="'Liberation Serif', serif" font-size="7.5" stroke="#222" stroke-width="0.15" fill="#222">e</text>
<text transform="translate(86.96,45.95) scale(1.035,1)" text-anchor="middle" font-family="'Liberation Serif', serif" font-size="7.5" stroke="#222" stroke-width="0.15" fill="#222">2</text>
<text transform="translate(90.84,45.95) scale(1.035,1)" text-anchor="middle" font-family="'Liberation Serif', serif" font-size="7.5" stroke="#222" stroke-width="0.15" fill="#222">v</text>
<text transform="translate(94.72,45.95) scale(1.150,1)" text-anchor="middle" font-family="'Liberation Serif', serif" font-size="7.5" stroke="#222" stroke-width="0.15" fill="#222">e</text>
<text transform="translate(98.60,45.95) scale(1.150,1)" text-anchor="middle" font-family="'Liberation Serif', serif" font-size="7.5" stroke="#222" stroke-width="0.15" fill="#222">c</text>
<text transform="translate(102.48,47.15) scale(1.05,1.05)" text-anchor="middle" font-family="'Liberation Serif', serif" font-size="7.5" font-weight="bold" stroke="#222" stroke-width="0.2" fill="#222">*</text>
<rect x="50.6" y="48.15" width="14.4" height="6.9" fill="#FFFF33" stroke="#888" stroke-width="0.5"/>
<text transform="translate(71.44,54.55) scale(1.035,1)" text-anchor="middle" font-family="'Liberation Serif', serif" font-size="7.5" stroke="#222" stroke-width="0.15" fill="#222">n</text>
<text transform="translate(75.32,54.55) scale(1.035,1)" text-anchor="middle" font-family="'Liberation Serif', serif" font-size="7.5" stroke="#222" stroke-width="0.15" fill="#222">o</text>
<text transform="translate(79.20,54.55) scale(1.035,1)" text-anchor="middle" font-family="'Liberation Serif', serif" font-size="7.5" stroke="#222" stroke-width="0.15" fill="#222">d</text>
<text transform="translate(83.08,54.55) scale(1.150,1)" text-anchor="middle" font-family="'Liberation Serif', serif" font-size="7.5" stroke="#222" stroke-width="0.15" fill="#222">e</text>
<text transform="translate(86.96,54.55) scale(1.035,1)" text-anchor="middle" font-family="'Liberation Serif', serif" font-size="7.5" stroke="#222" stroke-width="0.15" fill="#222">2</text>
<text transform="translate(90.84,54.55) scale(1.035,1)" text-anchor="middle" font-family="'Liberation Serif', serif" font-size="7.5" stroke="#222" stroke-width="0.15" fill="#222">v</text>
<text transform="translate(94.72,54.55) scale(1.150,1)" text-anchor="middle" font-family="'Liberation Serif', serif" font-size="7.5" stroke="#222" stroke-width="0.15" fill="#222">e</text>
<text transform="translate(98.60,54.55) scale(1.150,1)" text-anchor="middle" font-family="'Liberation Serif', serif" font-size="7.5" stroke="#222" stroke-width="0.15" fill="#222">c</text>
<text transform="translate(102.48,55.75) scale(1.05,1.05)" text-anchor="middle" font-family="'Liberation Serif', serif" font-size="7.5" font-weight="bold" stroke="#222" stroke-width="0.2" fill="#222">*</text>
<text transform="translate(106.36,55.75) scale(1.05,1.05)" text-anchor="middle" font-family="'Liberation Serif', serif" font-size="7.5" font-weight="bold" stroke="#222" stroke-width="0.2" fill="#222">*</text>
</svg></body></html>
